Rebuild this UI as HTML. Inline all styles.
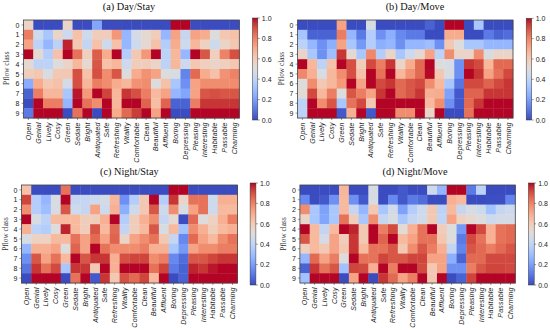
<!DOCTYPE html><html><head><meta charset="utf-8"><style>html,body{margin:0;padding:0;background:#fff;width:550px;height:330px;overflow:hidden}svg{display:block}.t{font-family:"Liberation Serif",serif;fill:#111}.s{font-family:"Liberation Sans",sans-serif;fill:#222}.x{font-family:"Liberation Sans",sans-serif;font-style:italic;fill:#1a1a1a}</style></head><body>
<svg width="550" height="330" viewBox="0 0 550 330">
<defs><linearGradient id="cb" x1="0" y1="1" x2="0" y2="0">
<stop offset="0.00" stop-color="#3b4cc0"/>
<stop offset="0.05" stop-color="#4961d2"/>
<stop offset="0.10" stop-color="#5977e3"/>
<stop offset="0.15" stop-color="#6a8bef"/>
<stop offset="0.20" stop-color="#7b9ff9"/>
<stop offset="0.25" stop-color="#8db0fe"/>
<stop offset="0.30" stop-color="#9ebeff"/>
<stop offset="0.35" stop-color="#afcafc"/>
<stop offset="0.40" stop-color="#c0d4f5"/>
<stop offset="0.45" stop-color="#cfdaea"/>
<stop offset="0.50" stop-color="#dddcdc"/>
<stop offset="0.55" stop-color="#e9d5cb"/>
<stop offset="0.60" stop-color="#f2cbb7"/>
<stop offset="0.65" stop-color="#f6bda2"/>
<stop offset="0.70" stop-color="#f7ac8e"/>
<stop offset="0.75" stop-color="#f4987a"/>
<stop offset="0.80" stop-color="#ee8468"/>
<stop offset="0.85" stop-color="#e36c55"/>
<stop offset="0.90" stop-color="#d65244"/>
<stop offset="0.95" stop-color="#c53334"/>
<stop offset="1.00" stop-color="#b40426"/>
</linearGradient></defs>
<rect x="23.50" y="20.00" width="10.16" height="10.15" fill="#ead4c8"/>
<rect x="33.31" y="20.00" width="10.16" height="10.15" fill="#3b4cc0"/>
<rect x="43.12" y="20.00" width="10.16" height="10.15" fill="#3b4cc0"/>
<rect x="52.93" y="20.00" width="10.16" height="10.15" fill="#3b4cc0"/>
<rect x="62.74" y="20.00" width="10.16" height="10.15" fill="#ead4c8"/>
<rect x="72.55" y="20.00" width="10.16" height="10.15" fill="#3b4cc0"/>
<rect x="82.36" y="20.00" width="10.16" height="10.15" fill="#3b4cc0"/>
<rect x="92.17" y="20.00" width="10.16" height="10.15" fill="#82a6fb"/>
<rect x="101.98" y="20.00" width="10.16" height="10.15" fill="#3b4cc0"/>
<rect x="111.79" y="20.00" width="10.16" height="10.15" fill="#3b4cc0"/>
<rect x="121.60" y="20.00" width="10.16" height="10.15" fill="#3b4cc0"/>
<rect x="131.41" y="20.00" width="10.16" height="10.15" fill="#3b4cc0"/>
<rect x="141.22" y="20.00" width="10.16" height="10.15" fill="#3b4cc0"/>
<rect x="151.03" y="20.00" width="10.16" height="10.15" fill="#3b4cc0"/>
<rect x="160.84" y="20.00" width="10.16" height="10.15" fill="#3b4cc0"/>
<rect x="170.65" y="20.00" width="10.16" height="10.15" fill="#b40426"/>
<rect x="180.46" y="20.00" width="10.16" height="10.15" fill="#b40426"/>
<rect x="190.27" y="20.00" width="10.16" height="10.15" fill="#3b4cc0"/>
<rect x="200.08" y="20.00" width="10.16" height="10.15" fill="#3b4cc0"/>
<rect x="209.89" y="20.00" width="10.16" height="10.15" fill="#3b4cc0"/>
<rect x="219.70" y="20.00" width="10.16" height="10.15" fill="#3b4cc0"/>
<rect x="229.51" y="20.00" width="10.16" height="10.15" fill="#3b4cc0"/>
<rect x="23.50" y="29.80" width="10.16" height="10.15" fill="#eb7d62"/>
<rect x="33.31" y="29.80" width="10.16" height="10.15" fill="#cdd9ec"/>
<rect x="43.12" y="29.80" width="10.16" height="10.15" fill="#a9c6fd"/>
<rect x="52.93" y="29.80" width="10.16" height="10.15" fill="#ead4c8"/>
<rect x="62.74" y="29.80" width="10.16" height="10.15" fill="#cdd9ec"/>
<rect x="72.55" y="29.80" width="10.16" height="10.15" fill="#f5c1a9"/>
<rect x="82.36" y="29.80" width="10.16" height="10.15" fill="#cdd9ec"/>
<rect x="92.17" y="29.80" width="10.16" height="10.15" fill="#f0cdbb"/>
<rect x="101.98" y="29.80" width="10.16" height="10.15" fill="#f0cdbb"/>
<rect x="111.79" y="29.80" width="10.16" height="10.15" fill="#f39778"/>
<rect x="121.60" y="29.80" width="10.16" height="10.15" fill="#96b7ff"/>
<rect x="131.41" y="29.80" width="10.16" height="10.15" fill="#d4dbe6"/>
<rect x="141.22" y="29.80" width="10.16" height="10.15" fill="#e5d8d1"/>
<rect x="151.03" y="29.80" width="10.16" height="10.15" fill="#f0cdbb"/>
<rect x="160.84" y="29.80" width="10.16" height="10.15" fill="#96b7ff"/>
<rect x="170.65" y="29.80" width="10.16" height="10.15" fill="#f6a385"/>
<rect x="180.46" y="29.80" width="10.16" height="10.15" fill="#c6d6f1"/>
<rect x="190.27" y="29.80" width="10.16" height="10.15" fill="#f6a385"/>
<rect x="200.08" y="29.80" width="10.16" height="10.15" fill="#f7ac8e"/>
<rect x="209.89" y="29.80" width="10.16" height="10.15" fill="#dddcdc"/>
<rect x="219.70" y="29.80" width="10.16" height="10.15" fill="#f3c8b2"/>
<rect x="229.51" y="29.80" width="10.16" height="10.15" fill="#f5c1a9"/>
<rect x="23.50" y="39.60" width="10.16" height="10.15" fill="#f6a385"/>
<rect x="33.31" y="39.60" width="10.16" height="10.15" fill="#bcd2f7"/>
<rect x="43.12" y="39.60" width="10.16" height="10.15" fill="#96b7ff"/>
<rect x="52.93" y="39.60" width="10.16" height="10.15" fill="#bcd2f7"/>
<rect x="62.74" y="39.60" width="10.16" height="10.15" fill="#be242e"/>
<rect x="72.55" y="39.60" width="10.16" height="10.15" fill="#f3c8b2"/>
<rect x="82.36" y="39.60" width="10.16" height="10.15" fill="#c4d5f3"/>
<rect x="92.17" y="39.60" width="10.16" height="10.15" fill="#f5c1a9"/>
<rect x="101.98" y="39.60" width="10.16" height="10.15" fill="#cdd9ec"/>
<rect x="111.79" y="39.60" width="10.16" height="10.15" fill="#f5c1a9"/>
<rect x="121.60" y="39.60" width="10.16" height="10.15" fill="#96b7ff"/>
<rect x="131.41" y="39.60" width="10.16" height="10.15" fill="#cdd9ec"/>
<rect x="141.22" y="39.60" width="10.16" height="10.15" fill="#e5d8d1"/>
<rect x="151.03" y="39.60" width="10.16" height="10.15" fill="#f5c1a9"/>
<rect x="160.84" y="39.60" width="10.16" height="10.15" fill="#b5cdfa"/>
<rect x="170.65" y="39.60" width="10.16" height="10.15" fill="#f7ac8e"/>
<rect x="180.46" y="39.60" width="10.16" height="10.15" fill="#cdd9ec"/>
<rect x="190.27" y="39.60" width="10.16" height="10.15" fill="#f7b79b"/>
<rect x="200.08" y="39.60" width="10.16" height="10.15" fill="#edd2c3"/>
<rect x="209.89" y="39.60" width="10.16" height="10.15" fill="#cdd9ec"/>
<rect x="219.70" y="39.60" width="10.16" height="10.15" fill="#ead4c8"/>
<rect x="229.51" y="39.60" width="10.16" height="10.15" fill="#f3c8b2"/>
<rect x="23.50" y="49.40" width="10.16" height="10.15" fill="#b40426"/>
<rect x="33.31" y="49.40" width="10.16" height="10.15" fill="#e5d8d1"/>
<rect x="43.12" y="49.40" width="10.16" height="10.15" fill="#b5cdfa"/>
<rect x="52.93" y="49.40" width="10.16" height="10.15" fill="#f5c1a9"/>
<rect x="62.74" y="49.40" width="10.16" height="10.15" fill="#b40426"/>
<rect x="72.55" y="49.40" width="10.16" height="10.15" fill="#e67259"/>
<rect x="82.36" y="49.40" width="10.16" height="10.15" fill="#efcfbf"/>
<rect x="92.17" y="49.40" width="10.16" height="10.15" fill="#dc5d4a"/>
<rect x="101.98" y="49.40" width="10.16" height="10.15" fill="#f7ac8e"/>
<rect x="111.79" y="49.40" width="10.16" height="10.15" fill="#b40426"/>
<rect x="121.60" y="49.40" width="10.16" height="10.15" fill="#b5cdfa"/>
<rect x="131.41" y="49.40" width="10.16" height="10.15" fill="#f3c8b2"/>
<rect x="141.22" y="49.40" width="10.16" height="10.15" fill="#f39778"/>
<rect x="151.03" y="49.40" width="10.16" height="10.15" fill="#b40426"/>
<rect x="160.84" y="49.40" width="10.16" height="10.15" fill="#bcd2f7"/>
<rect x="170.65" y="49.40" width="10.16" height="10.15" fill="#f7b79b"/>
<rect x="180.46" y="49.40" width="10.16" height="10.15" fill="#96b7ff"/>
<rect x="190.27" y="49.40" width="10.16" height="10.15" fill="#b40426"/>
<rect x="200.08" y="49.40" width="10.16" height="10.15" fill="#d85646"/>
<rect x="209.89" y="49.40" width="10.16" height="10.15" fill="#efcfbf"/>
<rect x="219.70" y="49.40" width="10.16" height="10.15" fill="#ed8366"/>
<rect x="229.51" y="49.40" width="10.16" height="10.15" fill="#d55042"/>
<rect x="23.50" y="59.20" width="10.16" height="10.15" fill="#e5d8d1"/>
<rect x="33.31" y="59.20" width="10.16" height="10.15" fill="#bcd2f7"/>
<rect x="43.12" y="59.20" width="10.16" height="10.15" fill="#bcd2f7"/>
<rect x="52.93" y="59.20" width="10.16" height="10.15" fill="#dddcdc"/>
<rect x="62.74" y="59.20" width="10.16" height="10.15" fill="#ead4c8"/>
<rect x="72.55" y="59.20" width="10.16" height="10.15" fill="#f7b79b"/>
<rect x="82.36" y="59.20" width="10.16" height="10.15" fill="#e5d8d1"/>
<rect x="92.17" y="59.20" width="10.16" height="10.15" fill="#d85646"/>
<rect x="101.98" y="59.20" width="10.16" height="10.15" fill="#f5c1a9"/>
<rect x="111.79" y="59.20" width="10.16" height="10.15" fill="#f7b79b"/>
<rect x="121.60" y="59.20" width="10.16" height="10.15" fill="#cdd9ec"/>
<rect x="131.41" y="59.20" width="10.16" height="10.15" fill="#f0cdbb"/>
<rect x="141.22" y="59.20" width="10.16" height="10.15" fill="#f0cdbb"/>
<rect x="151.03" y="59.20" width="10.16" height="10.15" fill="#ead4c8"/>
<rect x="160.84" y="59.20" width="10.16" height="10.15" fill="#bcd2f7"/>
<rect x="170.65" y="59.20" width="10.16" height="10.15" fill="#f7b79b"/>
<rect x="180.46" y="59.20" width="10.16" height="10.15" fill="#cdd9ec"/>
<rect x="190.27" y="59.20" width="10.16" height="10.15" fill="#f3c8b2"/>
<rect x="200.08" y="59.20" width="10.16" height="10.15" fill="#efcfbf"/>
<rect x="209.89" y="59.20" width="10.16" height="10.15" fill="#ead4c8"/>
<rect x="219.70" y="59.20" width="10.16" height="10.15" fill="#efcfbf"/>
<rect x="229.51" y="59.20" width="10.16" height="10.15" fill="#f3c8b2"/>
<rect x="23.50" y="69.00" width="10.16" height="10.15" fill="#f0cdbb"/>
<rect x="33.31" y="69.00" width="10.16" height="10.15" fill="#f3c8b2"/>
<rect x="43.12" y="69.00" width="10.16" height="10.15" fill="#d7dce3"/>
<rect x="52.93" y="69.00" width="10.16" height="10.15" fill="#f3c8b2"/>
<rect x="62.74" y="69.00" width="10.16" height="10.15" fill="#f3c8b2"/>
<rect x="72.55" y="69.00" width="10.16" height="10.15" fill="#d55042"/>
<rect x="82.36" y="69.00" width="10.16" height="10.15" fill="#f5c1a9"/>
<rect x="92.17" y="69.00" width="10.16" height="10.15" fill="#d55042"/>
<rect x="101.98" y="69.00" width="10.16" height="10.15" fill="#f18d6f"/>
<rect x="111.79" y="69.00" width="10.16" height="10.15" fill="#d85646"/>
<rect x="121.60" y="69.00" width="10.16" height="10.15" fill="#dddcdc"/>
<rect x="131.41" y="69.00" width="10.16" height="10.15" fill="#f7ac8e"/>
<rect x="141.22" y="69.00" width="10.16" height="10.15" fill="#f29274"/>
<rect x="151.03" y="69.00" width="10.16" height="10.15" fill="#f6a385"/>
<rect x="160.84" y="69.00" width="10.16" height="10.15" fill="#dddcdc"/>
<rect x="170.65" y="69.00" width="10.16" height="10.15" fill="#d7dce3"/>
<rect x="180.46" y="69.00" width="10.16" height="10.15" fill="#6384eb"/>
<rect x="190.27" y="69.00" width="10.16" height="10.15" fill="#e26952"/>
<rect x="200.08" y="69.00" width="10.16" height="10.15" fill="#f7ac8e"/>
<rect x="209.89" y="69.00" width="10.16" height="10.15" fill="#f5c1a9"/>
<rect x="219.70" y="69.00" width="10.16" height="10.15" fill="#f29274"/>
<rect x="229.51" y="69.00" width="10.16" height="10.15" fill="#ed8366"/>
<rect x="23.50" y="78.80" width="10.16" height="10.15" fill="#8badfd"/>
<rect x="33.31" y="78.80" width="10.16" height="10.15" fill="#f7ac8e"/>
<rect x="43.12" y="78.80" width="10.16" height="10.15" fill="#f3c8b2"/>
<rect x="52.93" y="78.80" width="10.16" height="10.15" fill="#f5c1a9"/>
<rect x="62.74" y="78.80" width="10.16" height="10.15" fill="#d4dbe6"/>
<rect x="72.55" y="78.80" width="10.16" height="10.15" fill="#d55042"/>
<rect x="82.36" y="78.80" width="10.16" height="10.15" fill="#f7b79b"/>
<rect x="92.17" y="78.80" width="10.16" height="10.15" fill="#eb7d62"/>
<rect x="101.98" y="78.80" width="10.16" height="10.15" fill="#f18d6f"/>
<rect x="111.79" y="78.80" width="10.16" height="10.15" fill="#f7ac8e"/>
<rect x="121.60" y="78.80" width="10.16" height="10.15" fill="#f7b79b"/>
<rect x="131.41" y="78.80" width="10.16" height="10.15" fill="#f29274"/>
<rect x="141.22" y="78.80" width="10.16" height="10.15" fill="#f18d6f"/>
<rect x="151.03" y="78.80" width="10.16" height="10.15" fill="#dddcdc"/>
<rect x="160.84" y="78.80" width="10.16" height="10.15" fill="#f5c1a9"/>
<rect x="170.65" y="78.80" width="10.16" height="10.15" fill="#a9c6fd"/>
<rect x="180.46" y="78.80" width="10.16" height="10.15" fill="#6e90f2"/>
<rect x="190.27" y="78.80" width="10.16" height="10.15" fill="#f6a385"/>
<rect x="200.08" y="78.80" width="10.16" height="10.15" fill="#f18d6f"/>
<rect x="209.89" y="78.80" width="10.16" height="10.15" fill="#f18d6f"/>
<rect x="219.70" y="78.80" width="10.16" height="10.15" fill="#f18d6f"/>
<rect x="229.51" y="78.80" width="10.16" height="10.15" fill="#f18d6f"/>
<rect x="23.50" y="88.60" width="10.16" height="10.15" fill="#4a63d3"/>
<rect x="33.31" y="88.60" width="10.16" height="10.15" fill="#eb7d62"/>
<rect x="43.12" y="88.60" width="10.16" height="10.15" fill="#f7b79b"/>
<rect x="52.93" y="88.60" width="10.16" height="10.15" fill="#f7b79b"/>
<rect x="62.74" y="88.60" width="10.16" height="10.15" fill="#a9c6fd"/>
<rect x="72.55" y="88.60" width="10.16" height="10.15" fill="#ba162b"/>
<rect x="82.36" y="88.60" width="10.16" height="10.15" fill="#f49a7b"/>
<rect x="92.17" y="88.60" width="10.16" height="10.15" fill="#b40426"/>
<rect x="101.98" y="88.60" width="10.16" height="10.15" fill="#cf453c"/>
<rect x="111.79" y="88.60" width="10.16" height="10.15" fill="#f7b79b"/>
<rect x="121.60" y="88.60" width="10.16" height="10.15" fill="#c73635"/>
<rect x="131.41" y="88.60" width="10.16" height="10.15" fill="#d55042"/>
<rect x="141.22" y="88.60" width="10.16" height="10.15" fill="#eb7d62"/>
<rect x="151.03" y="88.60" width="10.16" height="10.15" fill="#f7ba9f"/>
<rect x="160.84" y="88.60" width="10.16" height="10.15" fill="#f6a385"/>
<rect x="170.65" y="88.60" width="10.16" height="10.15" fill="#96b7ff"/>
<rect x="180.46" y="88.60" width="10.16" height="10.15" fill="#82a6fb"/>
<rect x="190.27" y="88.60" width="10.16" height="10.15" fill="#f6a385"/>
<rect x="200.08" y="88.60" width="10.16" height="10.15" fill="#d85646"/>
<rect x="209.89" y="88.60" width="10.16" height="10.15" fill="#d55042"/>
<rect x="219.70" y="88.60" width="10.16" height="10.15" fill="#d85646"/>
<rect x="229.51" y="88.60" width="10.16" height="10.15" fill="#d85646"/>
<rect x="23.50" y="98.40" width="10.16" height="10.15" fill="#3b4cc0"/>
<rect x="33.31" y="98.40" width="10.16" height="10.15" fill="#b40426"/>
<rect x="43.12" y="98.40" width="10.16" height="10.15" fill="#eb7d62"/>
<rect x="52.93" y="98.40" width="10.16" height="10.15" fill="#eb7d62"/>
<rect x="62.74" y="98.40" width="10.16" height="10.15" fill="#96b7ff"/>
<rect x="72.55" y="98.40" width="10.16" height="10.15" fill="#b40426"/>
<rect x="82.36" y="98.40" width="10.16" height="10.15" fill="#e67259"/>
<rect x="92.17" y="98.40" width="10.16" height="10.15" fill="#f18d6f"/>
<rect x="101.98" y="98.40" width="10.16" height="10.15" fill="#b40426"/>
<rect x="111.79" y="98.40" width="10.16" height="10.15" fill="#f7b79b"/>
<rect x="121.60" y="98.40" width="10.16" height="10.15" fill="#b40426"/>
<rect x="131.41" y="98.40" width="10.16" height="10.15" fill="#b40426"/>
<rect x="141.22" y="98.40" width="10.16" height="10.15" fill="#df634e"/>
<rect x="151.03" y="98.40" width="10.16" height="10.15" fill="#f6bea4"/>
<rect x="160.84" y="98.40" width="10.16" height="10.15" fill="#df634e"/>
<rect x="170.65" y="98.40" width="10.16" height="10.15" fill="#4a63d3"/>
<rect x="180.46" y="98.40" width="10.16" height="10.15" fill="#4a63d3"/>
<rect x="190.27" y="98.40" width="10.16" height="10.15" fill="#eb7d62"/>
<rect x="200.08" y="98.40" width="10.16" height="10.15" fill="#c73635"/>
<rect x="209.89" y="98.40" width="10.16" height="10.15" fill="#c73635"/>
<rect x="219.70" y="98.40" width="10.16" height="10.15" fill="#c73635"/>
<rect x="229.51" y="98.40" width="10.16" height="10.15" fill="#c73635"/>
<rect x="23.50" y="108.20" width="10.16" height="10.15" fill="#5b7ae5"/>
<rect x="33.31" y="108.20" width="10.16" height="10.15" fill="#b40426"/>
<rect x="43.12" y="108.20" width="10.16" height="10.15" fill="#b40426"/>
<rect x="52.93" y="108.20" width="10.16" height="10.15" fill="#b40426"/>
<rect x="62.74" y="108.20" width="10.16" height="10.15" fill="#3b4cc0"/>
<rect x="72.55" y="108.20" width="10.16" height="10.15" fill="#e67259"/>
<rect x="82.36" y="108.20" width="10.16" height="10.15" fill="#b40426"/>
<rect x="92.17" y="108.20" width="10.16" height="10.15" fill="#3b4cc0"/>
<rect x="101.98" y="108.20" width="10.16" height="10.15" fill="#b40426"/>
<rect x="111.79" y="108.20" width="10.16" height="10.15" fill="#f7ac8e"/>
<rect x="121.60" y="108.20" width="10.16" height="10.15" fill="#e26952"/>
<rect x="131.41" y="108.20" width="10.16" height="10.15" fill="#cb3e38"/>
<rect x="141.22" y="108.20" width="10.16" height="10.15" fill="#b40426"/>
<rect x="151.03" y="108.20" width="10.16" height="10.15" fill="#f6a385"/>
<rect x="160.84" y="108.20" width="10.16" height="10.15" fill="#b40426"/>
<rect x="170.65" y="108.20" width="10.16" height="10.15" fill="#3b4cc0"/>
<rect x="180.46" y="108.20" width="10.16" height="10.15" fill="#3b4cc0"/>
<rect x="190.27" y="108.20" width="10.16" height="10.15" fill="#b40426"/>
<rect x="200.08" y="108.20" width="10.16" height="10.15" fill="#b40426"/>
<rect x="209.89" y="108.20" width="10.16" height="10.15" fill="#b40426"/>
<rect x="219.70" y="108.20" width="10.16" height="10.15" fill="#b40426"/>
<rect x="229.51" y="108.20" width="10.16" height="10.15" fill="#b40426"/>
<rect x="23.50" y="20.00" width="215.82" height="98.00" fill="none" stroke="#444" stroke-width="0.8"/>
<line x1="21.50" y1="24.90" x2="23.50" y2="24.90" stroke="#333" stroke-width="0.5"/>
<text class="s" x="19.40" y="25.10" font-size="7" text-anchor="end" dominant-baseline="central">0</text>
<line x1="21.50" y1="34.70" x2="23.50" y2="34.70" stroke="#333" stroke-width="0.5"/>
<text class="s" x="19.40" y="34.90" font-size="7" text-anchor="end" dominant-baseline="central">1</text>
<line x1="21.50" y1="44.50" x2="23.50" y2="44.50" stroke="#333" stroke-width="0.5"/>
<text class="s" x="19.40" y="44.70" font-size="7" text-anchor="end" dominant-baseline="central">2</text>
<line x1="21.50" y1="54.30" x2="23.50" y2="54.30" stroke="#333" stroke-width="0.5"/>
<text class="s" x="19.40" y="54.50" font-size="7" text-anchor="end" dominant-baseline="central">3</text>
<line x1="21.50" y1="64.10" x2="23.50" y2="64.10" stroke="#333" stroke-width="0.5"/>
<text class="s" x="19.40" y="64.30" font-size="7" text-anchor="end" dominant-baseline="central">4</text>
<line x1="21.50" y1="73.90" x2="23.50" y2="73.90" stroke="#333" stroke-width="0.5"/>
<text class="s" x="19.40" y="74.10" font-size="7" text-anchor="end" dominant-baseline="central">5</text>
<line x1="21.50" y1="83.70" x2="23.50" y2="83.70" stroke="#333" stroke-width="0.5"/>
<text class="s" x="19.40" y="83.90" font-size="7" text-anchor="end" dominant-baseline="central">6</text>
<line x1="21.50" y1="93.50" x2="23.50" y2="93.50" stroke="#333" stroke-width="0.5"/>
<text class="s" x="19.40" y="93.70" font-size="7" text-anchor="end" dominant-baseline="central">7</text>
<line x1="21.50" y1="103.30" x2="23.50" y2="103.30" stroke="#333" stroke-width="0.5"/>
<text class="s" x="19.40" y="103.50" font-size="7" text-anchor="end" dominant-baseline="central">8</text>
<line x1="21.50" y1="113.10" x2="23.50" y2="113.10" stroke="#333" stroke-width="0.5"/>
<text class="s" x="19.40" y="113.30" font-size="7" text-anchor="end" dominant-baseline="central">9</text>
<line x1="28.41" y1="118.00" x2="28.41" y2="120.00" stroke="#333" stroke-width="0.5"/>
<text class="x" transform="translate(28.41,122.30) rotate(-90)" font-size="7" letter-spacing="0.2" text-anchor="end" dominant-baseline="central">Open</text>
<line x1="38.22" y1="118.00" x2="38.22" y2="120.00" stroke="#333" stroke-width="0.5"/>
<text class="x" transform="translate(38.22,122.30) rotate(-90)" font-size="7" letter-spacing="0.2" text-anchor="end" dominant-baseline="central">Genial</text>
<line x1="48.03" y1="118.00" x2="48.03" y2="120.00" stroke="#333" stroke-width="0.5"/>
<text class="x" transform="translate(48.03,122.30) rotate(-90)" font-size="7" letter-spacing="0.2" text-anchor="end" dominant-baseline="central">Lively</text>
<line x1="57.84" y1="118.00" x2="57.84" y2="120.00" stroke="#333" stroke-width="0.5"/>
<text class="x" transform="translate(57.84,122.30) rotate(-90)" font-size="7" letter-spacing="0.2" text-anchor="end" dominant-baseline="central">Cosy</text>
<line x1="67.65" y1="118.00" x2="67.65" y2="120.00" stroke="#333" stroke-width="0.5"/>
<text class="x" transform="translate(67.65,122.30) rotate(-90)" font-size="7" letter-spacing="0.2" text-anchor="end" dominant-baseline="central">Green</text>
<line x1="77.46" y1="118.00" x2="77.46" y2="120.00" stroke="#333" stroke-width="0.5"/>
<text class="x" transform="translate(77.46,122.30) rotate(-90)" font-size="7" letter-spacing="0.2" text-anchor="end" dominant-baseline="central">Sedate</text>
<line x1="87.27" y1="118.00" x2="87.27" y2="120.00" stroke="#333" stroke-width="0.5"/>
<text class="x" transform="translate(87.27,122.30) rotate(-90)" font-size="7" letter-spacing="0.2" text-anchor="end" dominant-baseline="central">Bright</text>
<line x1="97.08" y1="118.00" x2="97.08" y2="120.00" stroke="#333" stroke-width="0.5"/>
<text class="x" transform="translate(97.08,122.30) rotate(-90)" font-size="7" letter-spacing="0.2" text-anchor="end" dominant-baseline="central">Antiquated</text>
<line x1="106.89" y1="118.00" x2="106.89" y2="120.00" stroke="#333" stroke-width="0.5"/>
<text class="x" transform="translate(106.89,122.30) rotate(-90)" font-size="7" letter-spacing="0.2" text-anchor="end" dominant-baseline="central">Safe</text>
<line x1="116.70" y1="118.00" x2="116.70" y2="120.00" stroke="#333" stroke-width="0.5"/>
<text class="x" transform="translate(116.70,122.30) rotate(-90)" font-size="7" letter-spacing="0.2" text-anchor="end" dominant-baseline="central">Refreshing</text>
<line x1="126.51" y1="118.00" x2="126.51" y2="120.00" stroke="#333" stroke-width="0.5"/>
<text class="x" transform="translate(126.51,122.30) rotate(-90)" font-size="7" letter-spacing="0.2" text-anchor="end" dominant-baseline="central">Vitality</text>
<line x1="136.31" y1="118.00" x2="136.31" y2="120.00" stroke="#333" stroke-width="0.5"/>
<text class="x" transform="translate(136.31,122.30) rotate(-90)" font-size="7" letter-spacing="0.2" text-anchor="end" dominant-baseline="central">Comfortable</text>
<line x1="146.12" y1="118.00" x2="146.12" y2="120.00" stroke="#333" stroke-width="0.5"/>
<text class="x" transform="translate(146.12,122.30) rotate(-90)" font-size="7" letter-spacing="0.2" text-anchor="end" dominant-baseline="central">Clean</text>
<line x1="155.94" y1="118.00" x2="155.94" y2="120.00" stroke="#333" stroke-width="0.5"/>
<text class="x" transform="translate(155.94,122.30) rotate(-90)" font-size="7" letter-spacing="0.2" text-anchor="end" dominant-baseline="central">Beautiful</text>
<line x1="165.75" y1="118.00" x2="165.75" y2="120.00" stroke="#333" stroke-width="0.5"/>
<text class="x" transform="translate(165.75,122.30) rotate(-90)" font-size="7" letter-spacing="0.2" text-anchor="end" dominant-baseline="central">Affluent</text>
<line x1="175.56" y1="118.00" x2="175.56" y2="120.00" stroke="#333" stroke-width="0.5"/>
<text class="x" transform="translate(175.56,122.30) rotate(-90)" font-size="7" letter-spacing="0.2" text-anchor="end" dominant-baseline="central">Boring</text>
<line x1="185.37" y1="118.00" x2="185.37" y2="120.00" stroke="#333" stroke-width="0.5"/>
<text class="x" transform="translate(185.37,122.30) rotate(-90)" font-size="7" letter-spacing="0.2" text-anchor="end" dominant-baseline="central">Depressing</text>
<line x1="195.18" y1="118.00" x2="195.18" y2="120.00" stroke="#333" stroke-width="0.5"/>
<text class="x" transform="translate(195.18,122.30) rotate(-90)" font-size="7" letter-spacing="0.2" text-anchor="end" dominant-baseline="central">Pleasing</text>
<line x1="204.99" y1="118.00" x2="204.99" y2="120.00" stroke="#333" stroke-width="0.5"/>
<text class="x" transform="translate(204.99,122.30) rotate(-90)" font-size="7" letter-spacing="0.2" text-anchor="end" dominant-baseline="central">Interesting</text>
<line x1="214.80" y1="118.00" x2="214.80" y2="120.00" stroke="#333" stroke-width="0.5"/>
<text class="x" transform="translate(214.80,122.30) rotate(-90)" font-size="7" letter-spacing="0.2" text-anchor="end" dominant-baseline="central">Habitable</text>
<line x1="224.61" y1="118.00" x2="224.61" y2="120.00" stroke="#333" stroke-width="0.5"/>
<text class="x" transform="translate(224.61,122.30) rotate(-90)" font-size="7" letter-spacing="0.2" text-anchor="end" dominant-baseline="central">Passable</text>
<line x1="234.42" y1="118.00" x2="234.42" y2="120.00" stroke="#333" stroke-width="0.5"/>
<text class="x" transform="translate(234.42,122.30) rotate(-90)" font-size="7" letter-spacing="0.2" text-anchor="end" dominant-baseline="central">Charming</text>
<text class="t" x="129.00" y="10.00" font-size="10.3" text-anchor="middle">(a) Day/Stay</text>
<text class="t" transform="translate(6.60,68.20) rotate(-90)" font-size="7.3" text-anchor="middle" dominant-baseline="central" style="fill:#333">Pflow class</text>
<rect x="252.40" y="18.00" width="5.40" height="102.00" fill="url(#cb)" stroke="#333" stroke-width="0.5"/>
<line x1="257.80" y1="120.00" x2="259.80" y2="120.00" stroke="#333" stroke-width="0.5"/>
<text class="s" x="261.80" y="120.20" font-size="7" dominant-baseline="central">0.0</text>
<line x1="257.80" y1="99.60" x2="259.80" y2="99.60" stroke="#333" stroke-width="0.5"/>
<text class="s" x="261.80" y="99.80" font-size="7" dominant-baseline="central">0.2</text>
<line x1="257.80" y1="79.20" x2="259.80" y2="79.20" stroke="#333" stroke-width="0.5"/>
<text class="s" x="261.80" y="79.40" font-size="7" dominant-baseline="central">0.4</text>
<line x1="257.80" y1="58.80" x2="259.80" y2="58.80" stroke="#333" stroke-width="0.5"/>
<text class="s" x="261.80" y="59.00" font-size="7" dominant-baseline="central">0.6</text>
<line x1="257.80" y1="38.40" x2="259.80" y2="38.40" stroke="#333" stroke-width="0.5"/>
<text class="s" x="261.80" y="38.60" font-size="7" dominant-baseline="central">0.8</text>
<line x1="257.80" y1="18.00" x2="259.80" y2="18.00" stroke="#333" stroke-width="0.5"/>
<text class="s" x="261.80" y="18.20" font-size="7" dominant-baseline="central">1.0</text>
<rect x="297.50" y="20.00" width="10.14" height="10.15" fill="#3b4cc0"/>
<rect x="307.30" y="20.00" width="10.14" height="10.15" fill="#3b4cc0"/>
<rect x="317.09" y="20.00" width="10.14" height="10.15" fill="#3b4cc0"/>
<rect x="326.88" y="20.00" width="10.14" height="10.15" fill="#3b4cc0"/>
<rect x="336.68" y="20.00" width="10.14" height="10.15" fill="#f6a385"/>
<rect x="346.48" y="20.00" width="10.14" height="10.15" fill="#3b4cc0"/>
<rect x="356.27" y="20.00" width="10.14" height="10.15" fill="#3b4cc0"/>
<rect x="366.06" y="20.00" width="10.14" height="10.15" fill="#d7dce3"/>
<rect x="375.86" y="20.00" width="10.14" height="10.15" fill="#3b4cc0"/>
<rect x="385.65" y="20.00" width="10.14" height="10.15" fill="#3b4cc0"/>
<rect x="395.45" y="20.00" width="10.14" height="10.15" fill="#3b4cc0"/>
<rect x="405.25" y="20.00" width="10.14" height="10.15" fill="#3b4cc0"/>
<rect x="415.04" y="20.00" width="10.14" height="10.15" fill="#3b4cc0"/>
<rect x="424.83" y="20.00" width="10.14" height="10.15" fill="#4a63d3"/>
<rect x="434.63" y="20.00" width="10.14" height="10.15" fill="#3b4cc0"/>
<rect x="444.43" y="20.00" width="10.14" height="10.15" fill="#b40426"/>
<rect x="454.22" y="20.00" width="10.14" height="10.15" fill="#b40426"/>
<rect x="464.01" y="20.00" width="10.14" height="10.15" fill="#3b4cc0"/>
<rect x="473.81" y="20.00" width="10.14" height="10.15" fill="#a9c6fd"/>
<rect x="483.61" y="20.00" width="10.14" height="10.15" fill="#3b4cc0"/>
<rect x="493.40" y="20.00" width="10.14" height="10.15" fill="#3b4cc0"/>
<rect x="503.19" y="20.00" width="10.14" height="10.15" fill="#3b4cc0"/>
<rect x="297.50" y="29.80" width="10.14" height="10.15" fill="#a6c4fe"/>
<rect x="307.30" y="29.80" width="10.14" height="10.15" fill="#4a63d3"/>
<rect x="317.09" y="29.80" width="10.14" height="10.15" fill="#4a63d3"/>
<rect x="326.88" y="29.80" width="10.14" height="10.15" fill="#4a63d3"/>
<rect x="336.68" y="29.80" width="10.14" height="10.15" fill="#eb7d62"/>
<rect x="346.48" y="29.80" width="10.14" height="10.15" fill="#96b7ff"/>
<rect x="356.27" y="29.80" width="10.14" height="10.15" fill="#5b7ae5"/>
<rect x="366.06" y="29.80" width="10.14" height="10.15" fill="#b5cdfa"/>
<rect x="375.86" y="29.80" width="10.14" height="10.15" fill="#6e90f2"/>
<rect x="385.65" y="29.80" width="10.14" height="10.15" fill="#8db0fe"/>
<rect x="395.45" y="29.80" width="10.14" height="10.15" fill="#6788ee"/>
<rect x="405.25" y="29.80" width="10.14" height="10.15" fill="#5b7ae5"/>
<rect x="415.04" y="29.80" width="10.14" height="10.15" fill="#5b7ae5"/>
<rect x="424.83" y="29.80" width="10.14" height="10.15" fill="#3b4cc0"/>
<rect x="434.63" y="29.80" width="10.14" height="10.15" fill="#3b4cc0"/>
<rect x="444.43" y="29.80" width="10.14" height="10.15" fill="#f7ac8e"/>
<rect x="454.22" y="29.80" width="10.14" height="10.15" fill="#f7ac8e"/>
<rect x="464.01" y="29.80" width="10.14" height="10.15" fill="#3b4cc0"/>
<rect x="473.81" y="29.80" width="10.14" height="10.15" fill="#3b4cc0"/>
<rect x="483.61" y="29.80" width="10.14" height="10.15" fill="#5b7ae5"/>
<rect x="493.40" y="29.80" width="10.14" height="10.15" fill="#4a63d3"/>
<rect x="503.19" y="29.80" width="10.14" height="10.15" fill="#516ddb"/>
<rect x="297.50" y="39.60" width="10.14" height="10.15" fill="#bcd2f7"/>
<rect x="307.30" y="39.60" width="10.14" height="10.15" fill="#96b7ff"/>
<rect x="317.09" y="39.60" width="10.14" height="10.15" fill="#6e90f2"/>
<rect x="326.88" y="39.60" width="10.14" height="10.15" fill="#8db0fe"/>
<rect x="336.68" y="39.60" width="10.14" height="10.15" fill="#f6a385"/>
<rect x="346.48" y="39.60" width="10.14" height="10.15" fill="#a9c6fd"/>
<rect x="356.27" y="39.60" width="10.14" height="10.15" fill="#7699f6"/>
<rect x="366.06" y="39.60" width="10.14" height="10.15" fill="#b5cdfa"/>
<rect x="375.86" y="39.60" width="10.14" height="10.15" fill="#8db0fe"/>
<rect x="385.65" y="39.60" width="10.14" height="10.15" fill="#96b7ff"/>
<rect x="395.45" y="39.60" width="10.14" height="10.15" fill="#6e90f2"/>
<rect x="405.25" y="39.60" width="10.14" height="10.15" fill="#96b7ff"/>
<rect x="415.04" y="39.60" width="10.14" height="10.15" fill="#96b7ff"/>
<rect x="424.83" y="39.60" width="10.14" height="10.15" fill="#9ebeff"/>
<rect x="434.63" y="39.60" width="10.14" height="10.15" fill="#6e90f2"/>
<rect x="444.43" y="39.60" width="10.14" height="10.15" fill="#f3c8b2"/>
<rect x="454.22" y="39.60" width="10.14" height="10.15" fill="#dddcdc"/>
<rect x="464.01" y="39.60" width="10.14" height="10.15" fill="#a9c6fd"/>
<rect x="473.81" y="39.60" width="10.14" height="10.15" fill="#a9c6fd"/>
<rect x="483.61" y="39.60" width="10.14" height="10.15" fill="#96b7ff"/>
<rect x="493.40" y="39.60" width="10.14" height="10.15" fill="#96b7ff"/>
<rect x="503.19" y="39.60" width="10.14" height="10.15" fill="#96b7ff"/>
<rect x="297.50" y="49.40" width="10.14" height="10.15" fill="#ead4c8"/>
<rect x="307.30" y="49.40" width="10.14" height="10.15" fill="#a9c6fd"/>
<rect x="317.09" y="49.40" width="10.14" height="10.15" fill="#6e90f2"/>
<rect x="326.88" y="49.40" width="10.14" height="10.15" fill="#9ebeff"/>
<rect x="336.68" y="49.40" width="10.14" height="10.15" fill="#c73635"/>
<rect x="346.48" y="49.40" width="10.14" height="10.15" fill="#e5d8d1"/>
<rect x="356.27" y="49.40" width="10.14" height="10.15" fill="#a9c6fd"/>
<rect x="366.06" y="49.40" width="10.14" height="10.15" fill="#ef886b"/>
<rect x="375.86" y="49.40" width="10.14" height="10.15" fill="#b5cdfa"/>
<rect x="385.65" y="49.40" width="10.14" height="10.15" fill="#ead4c8"/>
<rect x="395.45" y="49.40" width="10.14" height="10.15" fill="#a9c6fd"/>
<rect x="405.25" y="49.40" width="10.14" height="10.15" fill="#cdd9ec"/>
<rect x="415.04" y="49.40" width="10.14" height="10.15" fill="#e5d8d1"/>
<rect x="424.83" y="49.40" width="10.14" height="10.15" fill="#f6a385"/>
<rect x="434.63" y="49.40" width="10.14" height="10.15" fill="#bcd2f7"/>
<rect x="444.43" y="49.40" width="10.14" height="10.15" fill="#f18d6f"/>
<rect x="454.22" y="49.40" width="10.14" height="10.15" fill="#ead4c8"/>
<rect x="464.01" y="49.40" width="10.14" height="10.15" fill="#ead4c8"/>
<rect x="473.81" y="49.40" width="10.14" height="10.15" fill="#f18d6f"/>
<rect x="483.61" y="49.40" width="10.14" height="10.15" fill="#d7dce3"/>
<rect x="493.40" y="49.40" width="10.14" height="10.15" fill="#ead4c8"/>
<rect x="503.19" y="49.40" width="10.14" height="10.15" fill="#ead4c8"/>
<rect x="297.50" y="59.20" width="10.14" height="10.15" fill="#b40426"/>
<rect x="307.30" y="59.20" width="10.14" height="10.15" fill="#f7b79b"/>
<rect x="317.09" y="59.20" width="10.14" height="10.15" fill="#bcd2f7"/>
<rect x="326.88" y="59.20" width="10.14" height="10.15" fill="#f5c1a9"/>
<rect x="336.68" y="59.20" width="10.14" height="10.15" fill="#b40426"/>
<rect x="346.48" y="59.20" width="10.14" height="10.15" fill="#d55042"/>
<rect x="356.27" y="59.20" width="10.14" height="10.15" fill="#f0cdbb"/>
<rect x="366.06" y="59.20" width="10.14" height="10.15" fill="#d1493f"/>
<rect x="375.86" y="59.20" width="10.14" height="10.15" fill="#eb7d62"/>
<rect x="385.65" y="59.20" width="10.14" height="10.15" fill="#c73635"/>
<rect x="395.45" y="59.20" width="10.14" height="10.15" fill="#ead4c8"/>
<rect x="405.25" y="59.20" width="10.14" height="10.15" fill="#f7ac8e"/>
<rect x="415.04" y="59.20" width="10.14" height="10.15" fill="#e26952"/>
<rect x="424.83" y="59.20" width="10.14" height="10.15" fill="#b40426"/>
<rect x="434.63" y="59.20" width="10.14" height="10.15" fill="#dddcdc"/>
<rect x="444.43" y="59.20" width="10.14" height="10.15" fill="#d7dce3"/>
<rect x="454.22" y="59.20" width="10.14" height="10.15" fill="#6e90f2"/>
<rect x="464.01" y="59.20" width="10.14" height="10.15" fill="#c73635"/>
<rect x="473.81" y="59.20" width="10.14" height="10.15" fill="#d1493f"/>
<rect x="483.61" y="59.20" width="10.14" height="10.15" fill="#f7b79b"/>
<rect x="493.40" y="59.20" width="10.14" height="10.15" fill="#e26952"/>
<rect x="503.19" y="59.20" width="10.14" height="10.15" fill="#e26952"/>
<rect x="297.50" y="69.00" width="10.14" height="10.15" fill="#ef886b"/>
<rect x="307.30" y="69.00" width="10.14" height="10.15" fill="#f7b093"/>
<rect x="317.09" y="69.00" width="10.14" height="10.15" fill="#d7dce3"/>
<rect x="326.88" y="69.00" width="10.14" height="10.15" fill="#f7b79b"/>
<rect x="336.68" y="69.00" width="10.14" height="10.15" fill="#f18d6f"/>
<rect x="346.48" y="69.00" width="10.14" height="10.15" fill="#d55042"/>
<rect x="356.27" y="69.00" width="10.14" height="10.15" fill="#f5c1a9"/>
<rect x="366.06" y="69.00" width="10.14" height="10.15" fill="#b40426"/>
<rect x="375.86" y="69.00" width="10.14" height="10.15" fill="#e67259"/>
<rect x="385.65" y="69.00" width="10.14" height="10.15" fill="#b40426"/>
<rect x="395.45" y="69.00" width="10.14" height="10.15" fill="#f7b79b"/>
<rect x="405.25" y="69.00" width="10.14" height="10.15" fill="#f29274"/>
<rect x="415.04" y="69.00" width="10.14" height="10.15" fill="#e26952"/>
<rect x="424.83" y="69.00" width="10.14" height="10.15" fill="#b50927"/>
<rect x="434.63" y="69.00" width="10.14" height="10.15" fill="#f3c8b2"/>
<rect x="444.43" y="69.00" width="10.14" height="10.15" fill="#d7dce3"/>
<rect x="454.22" y="69.00" width="10.14" height="10.15" fill="#6e90f2"/>
<rect x="464.01" y="69.00" width="10.14" height="10.15" fill="#b40426"/>
<rect x="473.81" y="69.00" width="10.14" height="10.15" fill="#c73635"/>
<rect x="483.61" y="69.00" width="10.14" height="10.15" fill="#f6a385"/>
<rect x="493.40" y="69.00" width="10.14" height="10.15" fill="#e67259"/>
<rect x="503.19" y="69.00" width="10.14" height="10.15" fill="#d1493f"/>
<rect x="297.50" y="78.80" width="10.14" height="10.15" fill="#dddcdc"/>
<rect x="307.30" y="78.80" width="10.14" height="10.15" fill="#f18d6f"/>
<rect x="317.09" y="78.80" width="10.14" height="10.15" fill="#f3c8b2"/>
<rect x="326.88" y="78.80" width="10.14" height="10.15" fill="#f7b79b"/>
<rect x="336.68" y="78.80" width="10.14" height="10.15" fill="#f49a7b"/>
<rect x="346.48" y="78.80" width="10.14" height="10.15" fill="#b40426"/>
<rect x="356.27" y="78.80" width="10.14" height="10.15" fill="#f6a385"/>
<rect x="366.06" y="78.80" width="10.14" height="10.15" fill="#b40426"/>
<rect x="375.86" y="78.80" width="10.14" height="10.15" fill="#d1493f"/>
<rect x="385.65" y="78.80" width="10.14" height="10.15" fill="#c73635"/>
<rect x="395.45" y="78.80" width="10.14" height="10.15" fill="#e26952"/>
<rect x="405.25" y="78.80" width="10.14" height="10.15" fill="#d85646"/>
<rect x="415.04" y="78.80" width="10.14" height="10.15" fill="#d1493f"/>
<rect x="424.83" y="78.80" width="10.14" height="10.15" fill="#f18d6f"/>
<rect x="434.63" y="78.80" width="10.14" height="10.15" fill="#f7ba9f"/>
<rect x="444.43" y="78.80" width="10.14" height="10.15" fill="#a9c6fd"/>
<rect x="454.22" y="78.80" width="10.14" height="10.15" fill="#5875e1"/>
<rect x="464.01" y="78.80" width="10.14" height="10.15" fill="#d1493f"/>
<rect x="473.81" y="78.80" width="10.14" height="10.15" fill="#d1493f"/>
<rect x="483.61" y="78.80" width="10.14" height="10.15" fill="#df634e"/>
<rect x="493.40" y="78.80" width="10.14" height="10.15" fill="#d1493f"/>
<rect x="503.19" y="78.80" width="10.14" height="10.15" fill="#c73635"/>
<rect x="297.50" y="88.60" width="10.14" height="10.15" fill="#e2dad5"/>
<rect x="307.30" y="88.60" width="10.14" height="10.15" fill="#d1493f"/>
<rect x="317.09" y="88.60" width="10.14" height="10.15" fill="#f7b79b"/>
<rect x="326.88" y="88.60" width="10.14" height="10.15" fill="#eb7d62"/>
<rect x="336.68" y="88.60" width="10.14" height="10.15" fill="#dddcdc"/>
<rect x="346.48" y="88.60" width="10.14" height="10.15" fill="#d85646"/>
<rect x="356.27" y="88.60" width="10.14" height="10.15" fill="#eb7d62"/>
<rect x="366.06" y="88.60" width="10.14" height="10.15" fill="#f6a385"/>
<rect x="375.86" y="88.60" width="10.14" height="10.15" fill="#c73635"/>
<rect x="385.65" y="88.60" width="10.14" height="10.15" fill="#b40426"/>
<rect x="395.45" y="88.60" width="10.14" height="10.15" fill="#e26952"/>
<rect x="405.25" y="88.60" width="10.14" height="10.15" fill="#d85646"/>
<rect x="415.04" y="88.60" width="10.14" height="10.15" fill="#c73635"/>
<rect x="424.83" y="88.60" width="10.14" height="10.15" fill="#f7b093"/>
<rect x="434.63" y="88.60" width="10.14" height="10.15" fill="#f7ac8e"/>
<rect x="444.43" y="88.60" width="10.14" height="10.15" fill="#7ea1fa"/>
<rect x="454.22" y="88.60" width="10.14" height="10.15" fill="#4358cb"/>
<rect x="464.01" y="88.60" width="10.14" height="10.15" fill="#df634e"/>
<rect x="473.81" y="88.60" width="10.14" height="10.15" fill="#df634e"/>
<rect x="483.61" y="88.60" width="10.14" height="10.15" fill="#c73635"/>
<rect x="493.40" y="88.60" width="10.14" height="10.15" fill="#c73635"/>
<rect x="503.19" y="88.60" width="10.14" height="10.15" fill="#c73635"/>
<rect x="297.50" y="98.40" width="10.14" height="10.15" fill="#bcd2f7"/>
<rect x="307.30" y="98.40" width="10.14" height="10.15" fill="#b40426"/>
<rect x="317.09" y="98.40" width="10.14" height="10.15" fill="#f18d6f"/>
<rect x="326.88" y="98.40" width="10.14" height="10.15" fill="#d85646"/>
<rect x="336.68" y="98.40" width="10.14" height="10.15" fill="#a9c6fd"/>
<rect x="346.48" y="98.40" width="10.14" height="10.15" fill="#e67259"/>
<rect x="356.27" y="98.40" width="10.14" height="10.15" fill="#d1493f"/>
<rect x="366.06" y="98.40" width="10.14" height="10.15" fill="#f3c8b2"/>
<rect x="375.86" y="98.40" width="10.14" height="10.15" fill="#b40426"/>
<rect x="385.65" y="98.40" width="10.14" height="10.15" fill="#b40426"/>
<rect x="395.45" y="98.40" width="10.14" height="10.15" fill="#b40426"/>
<rect x="405.25" y="98.40" width="10.14" height="10.15" fill="#b40426"/>
<rect x="415.04" y="98.40" width="10.14" height="10.15" fill="#b40426"/>
<rect x="424.83" y="98.40" width="10.14" height="10.15" fill="#f7ba9f"/>
<rect x="434.63" y="98.40" width="10.14" height="10.15" fill="#f18d6f"/>
<rect x="444.43" y="98.40" width="10.14" height="10.15" fill="#6e90f2"/>
<rect x="454.22" y="98.40" width="10.14" height="10.15" fill="#4358cb"/>
<rect x="464.01" y="98.40" width="10.14" height="10.15" fill="#e26952"/>
<rect x="473.81" y="98.40" width="10.14" height="10.15" fill="#c73635"/>
<rect x="483.61" y="98.40" width="10.14" height="10.15" fill="#b40426"/>
<rect x="493.40" y="98.40" width="10.14" height="10.15" fill="#b40426"/>
<rect x="503.19" y="98.40" width="10.14" height="10.15" fill="#b40426"/>
<rect x="297.50" y="108.20" width="10.14" height="10.15" fill="#bcd2f7"/>
<rect x="307.30" y="108.20" width="10.14" height="10.15" fill="#b40426"/>
<rect x="317.09" y="108.20" width="10.14" height="10.15" fill="#b40426"/>
<rect x="326.88" y="108.20" width="10.14" height="10.15" fill="#b40426"/>
<rect x="336.68" y="108.20" width="10.14" height="10.15" fill="#4358cb"/>
<rect x="346.48" y="108.20" width="10.14" height="10.15" fill="#f7b093"/>
<rect x="356.27" y="108.20" width="10.14" height="10.15" fill="#b40426"/>
<rect x="366.06" y="108.20" width="10.14" height="10.15" fill="#4358cb"/>
<rect x="375.86" y="108.20" width="10.14" height="10.15" fill="#b40426"/>
<rect x="385.65" y="108.20" width="10.14" height="10.15" fill="#b40426"/>
<rect x="395.45" y="108.20" width="10.14" height="10.15" fill="#f18d6f"/>
<rect x="405.25" y="108.20" width="10.14" height="10.15" fill="#f18d6f"/>
<rect x="415.04" y="108.20" width="10.14" height="10.15" fill="#b40426"/>
<rect x="424.83" y="108.20" width="10.14" height="10.15" fill="#ead4c8"/>
<rect x="434.63" y="108.20" width="10.14" height="10.15" fill="#b40426"/>
<rect x="444.43" y="108.20" width="10.14" height="10.15" fill="#3b4cc0"/>
<rect x="454.22" y="108.20" width="10.14" height="10.15" fill="#3b4cc0"/>
<rect x="464.01" y="108.20" width="10.14" height="10.15" fill="#e67259"/>
<rect x="473.81" y="108.20" width="10.14" height="10.15" fill="#b40426"/>
<rect x="483.61" y="108.20" width="10.14" height="10.15" fill="#b40426"/>
<rect x="493.40" y="108.20" width="10.14" height="10.15" fill="#b40426"/>
<rect x="503.19" y="108.20" width="10.14" height="10.15" fill="#b40426"/>
<rect x="297.50" y="20.00" width="215.49" height="98.00" fill="none" stroke="#444" stroke-width="0.8"/>
<line x1="295.50" y1="24.90" x2="297.50" y2="24.90" stroke="#333" stroke-width="0.5"/>
<text class="s" x="293.40" y="25.10" font-size="7" text-anchor="end" dominant-baseline="central">0</text>
<line x1="295.50" y1="34.70" x2="297.50" y2="34.70" stroke="#333" stroke-width="0.5"/>
<text class="s" x="293.40" y="34.90" font-size="7" text-anchor="end" dominant-baseline="central">1</text>
<line x1="295.50" y1="44.50" x2="297.50" y2="44.50" stroke="#333" stroke-width="0.5"/>
<text class="s" x="293.40" y="44.70" font-size="7" text-anchor="end" dominant-baseline="central">2</text>
<line x1="295.50" y1="54.30" x2="297.50" y2="54.30" stroke="#333" stroke-width="0.5"/>
<text class="s" x="293.40" y="54.50" font-size="7" text-anchor="end" dominant-baseline="central">3</text>
<line x1="295.50" y1="64.10" x2="297.50" y2="64.10" stroke="#333" stroke-width="0.5"/>
<text class="s" x="293.40" y="64.30" font-size="7" text-anchor="end" dominant-baseline="central">4</text>
<line x1="295.50" y1="73.90" x2="297.50" y2="73.90" stroke="#333" stroke-width="0.5"/>
<text class="s" x="293.40" y="74.10" font-size="7" text-anchor="end" dominant-baseline="central">5</text>
<line x1="295.50" y1="83.70" x2="297.50" y2="83.70" stroke="#333" stroke-width="0.5"/>
<text class="s" x="293.40" y="83.90" font-size="7" text-anchor="end" dominant-baseline="central">6</text>
<line x1="295.50" y1="93.50" x2="297.50" y2="93.50" stroke="#333" stroke-width="0.5"/>
<text class="s" x="293.40" y="93.70" font-size="7" text-anchor="end" dominant-baseline="central">7</text>
<line x1="295.50" y1="103.30" x2="297.50" y2="103.30" stroke="#333" stroke-width="0.5"/>
<text class="s" x="293.40" y="103.50" font-size="7" text-anchor="end" dominant-baseline="central">8</text>
<line x1="295.50" y1="113.10" x2="297.50" y2="113.10" stroke="#333" stroke-width="0.5"/>
<text class="s" x="293.40" y="113.30" font-size="7" text-anchor="end" dominant-baseline="central">9</text>
<line x1="302.40" y1="118.00" x2="302.40" y2="120.00" stroke="#333" stroke-width="0.5"/>
<text class="x" transform="translate(302.40,122.30) rotate(-90)" font-size="7" letter-spacing="0.2" text-anchor="end" dominant-baseline="central">Open</text>
<line x1="312.19" y1="118.00" x2="312.19" y2="120.00" stroke="#333" stroke-width="0.5"/>
<text class="x" transform="translate(312.19,122.30) rotate(-90)" font-size="7" letter-spacing="0.2" text-anchor="end" dominant-baseline="central">Genial</text>
<line x1="321.99" y1="118.00" x2="321.99" y2="120.00" stroke="#333" stroke-width="0.5"/>
<text class="x" transform="translate(321.99,122.30) rotate(-90)" font-size="7" letter-spacing="0.2" text-anchor="end" dominant-baseline="central">Lively</text>
<line x1="331.78" y1="118.00" x2="331.78" y2="120.00" stroke="#333" stroke-width="0.5"/>
<text class="x" transform="translate(331.78,122.30) rotate(-90)" font-size="7" letter-spacing="0.2" text-anchor="end" dominant-baseline="central">Cosy</text>
<line x1="341.58" y1="118.00" x2="341.58" y2="120.00" stroke="#333" stroke-width="0.5"/>
<text class="x" transform="translate(341.58,122.30) rotate(-90)" font-size="7" letter-spacing="0.2" text-anchor="end" dominant-baseline="central">Green</text>
<line x1="351.37" y1="118.00" x2="351.37" y2="120.00" stroke="#333" stroke-width="0.5"/>
<text class="x" transform="translate(351.37,122.30) rotate(-90)" font-size="7" letter-spacing="0.2" text-anchor="end" dominant-baseline="central">Sedate</text>
<line x1="361.17" y1="118.00" x2="361.17" y2="120.00" stroke="#333" stroke-width="0.5"/>
<text class="x" transform="translate(361.17,122.30) rotate(-90)" font-size="7" letter-spacing="0.2" text-anchor="end" dominant-baseline="central">Bright</text>
<line x1="370.96" y1="118.00" x2="370.96" y2="120.00" stroke="#333" stroke-width="0.5"/>
<text class="x" transform="translate(370.96,122.30) rotate(-90)" font-size="7" letter-spacing="0.2" text-anchor="end" dominant-baseline="central">Antiquated</text>
<line x1="380.76" y1="118.00" x2="380.76" y2="120.00" stroke="#333" stroke-width="0.5"/>
<text class="x" transform="translate(380.76,122.30) rotate(-90)" font-size="7" letter-spacing="0.2" text-anchor="end" dominant-baseline="central">Safe</text>
<line x1="390.55" y1="118.00" x2="390.55" y2="120.00" stroke="#333" stroke-width="0.5"/>
<text class="x" transform="translate(390.55,122.30) rotate(-90)" font-size="7" letter-spacing="0.2" text-anchor="end" dominant-baseline="central">Refreshing</text>
<line x1="400.35" y1="118.00" x2="400.35" y2="120.00" stroke="#333" stroke-width="0.5"/>
<text class="x" transform="translate(400.35,122.30) rotate(-90)" font-size="7" letter-spacing="0.2" text-anchor="end" dominant-baseline="central">Vitality</text>
<line x1="410.14" y1="118.00" x2="410.14" y2="120.00" stroke="#333" stroke-width="0.5"/>
<text class="x" transform="translate(410.14,122.30) rotate(-90)" font-size="7" letter-spacing="0.2" text-anchor="end" dominant-baseline="central">Comfortable</text>
<line x1="419.94" y1="118.00" x2="419.94" y2="120.00" stroke="#333" stroke-width="0.5"/>
<text class="x" transform="translate(419.94,122.30) rotate(-90)" font-size="7" letter-spacing="0.2" text-anchor="end" dominant-baseline="central">Clean</text>
<line x1="429.73" y1="118.00" x2="429.73" y2="120.00" stroke="#333" stroke-width="0.5"/>
<text class="x" transform="translate(429.73,122.30) rotate(-90)" font-size="7" letter-spacing="0.2" text-anchor="end" dominant-baseline="central">Beautiful</text>
<line x1="439.53" y1="118.00" x2="439.53" y2="120.00" stroke="#333" stroke-width="0.5"/>
<text class="x" transform="translate(439.53,122.30) rotate(-90)" font-size="7" letter-spacing="0.2" text-anchor="end" dominant-baseline="central">Affluent</text>
<line x1="449.32" y1="118.00" x2="449.32" y2="120.00" stroke="#333" stroke-width="0.5"/>
<text class="x" transform="translate(449.32,122.30) rotate(-90)" font-size="7" letter-spacing="0.2" text-anchor="end" dominant-baseline="central">Boring</text>
<line x1="459.12" y1="118.00" x2="459.12" y2="120.00" stroke="#333" stroke-width="0.5"/>
<text class="x" transform="translate(459.12,122.30) rotate(-90)" font-size="7" letter-spacing="0.2" text-anchor="end" dominant-baseline="central">Depressing</text>
<line x1="468.91" y1="118.00" x2="468.91" y2="120.00" stroke="#333" stroke-width="0.5"/>
<text class="x" transform="translate(468.91,122.30) rotate(-90)" font-size="7" letter-spacing="0.2" text-anchor="end" dominant-baseline="central">Pleasing</text>
<line x1="478.71" y1="118.00" x2="478.71" y2="120.00" stroke="#333" stroke-width="0.5"/>
<text class="x" transform="translate(478.71,122.30) rotate(-90)" font-size="7" letter-spacing="0.2" text-anchor="end" dominant-baseline="central">Interesting</text>
<line x1="488.50" y1="118.00" x2="488.50" y2="120.00" stroke="#333" stroke-width="0.5"/>
<text class="x" transform="translate(488.50,122.30) rotate(-90)" font-size="7" letter-spacing="0.2" text-anchor="end" dominant-baseline="central">Habitable</text>
<line x1="498.30" y1="118.00" x2="498.30" y2="120.00" stroke="#333" stroke-width="0.5"/>
<text class="x" transform="translate(498.30,122.30) rotate(-90)" font-size="7" letter-spacing="0.2" text-anchor="end" dominant-baseline="central">Passable</text>
<line x1="508.09" y1="118.00" x2="508.09" y2="120.00" stroke="#333" stroke-width="0.5"/>
<text class="x" transform="translate(508.09,122.30) rotate(-90)" font-size="7" letter-spacing="0.2" text-anchor="end" dominant-baseline="central">Charming</text>
<text class="t" x="415.00" y="10.00" font-size="10.3" text-anchor="middle">(b) Day/Move</text>
<text class="t" transform="translate(281.00,68.60) rotate(-90)" font-size="7.3" text-anchor="middle" dominant-baseline="central" style="fill:#333">Pflow class</text>
<rect x="526.20" y="18.30" width="5.50" height="101.70" fill="url(#cb)" stroke="#333" stroke-width="0.5"/>
<line x1="531.70" y1="120.00" x2="533.70" y2="120.00" stroke="#333" stroke-width="0.5"/>
<text class="s" x="535.70" y="120.20" font-size="7" dominant-baseline="central">0.0</text>
<line x1="531.70" y1="99.66" x2="533.70" y2="99.66" stroke="#333" stroke-width="0.5"/>
<text class="s" x="535.70" y="99.86" font-size="7" dominant-baseline="central">0.2</text>
<line x1="531.70" y1="79.32" x2="533.70" y2="79.32" stroke="#333" stroke-width="0.5"/>
<text class="s" x="535.70" y="79.52" font-size="7" dominant-baseline="central">0.4</text>
<line x1="531.70" y1="58.98" x2="533.70" y2="58.98" stroke="#333" stroke-width="0.5"/>
<text class="s" x="535.70" y="59.18" font-size="7" dominant-baseline="central">0.6</text>
<line x1="531.70" y1="38.64" x2="533.70" y2="38.64" stroke="#333" stroke-width="0.5"/>
<text class="s" x="535.70" y="38.84" font-size="7" dominant-baseline="central">0.8</text>
<line x1="531.70" y1="18.30" x2="533.70" y2="18.30" stroke="#333" stroke-width="0.5"/>
<text class="s" x="535.70" y="18.50" font-size="7" dominant-baseline="central">1.0</text>
<rect x="21.40" y="185.00" width="10.17" height="10.15" fill="#f5c1a9"/>
<rect x="31.22" y="185.00" width="10.17" height="10.15" fill="#3b4cc0"/>
<rect x="41.04" y="185.00" width="10.17" height="10.15" fill="#3b4cc0"/>
<rect x="50.86" y="185.00" width="10.17" height="10.15" fill="#3b4cc0"/>
<rect x="60.68" y="185.00" width="10.17" height="10.15" fill="#e67259"/>
<rect x="70.50" y="185.00" width="10.17" height="10.15" fill="#3b4cc0"/>
<rect x="80.32" y="185.00" width="10.17" height="10.15" fill="#3b4cc0"/>
<rect x="90.14" y="185.00" width="10.17" height="10.15" fill="#3b4cc0"/>
<rect x="99.96" y="185.00" width="10.17" height="10.15" fill="#3b4cc0"/>
<rect x="109.78" y="185.00" width="10.17" height="10.15" fill="#3b4cc0"/>
<rect x="119.60" y="185.00" width="10.17" height="10.15" fill="#3b4cc0"/>
<rect x="129.42" y="185.00" width="10.17" height="10.15" fill="#3b4cc0"/>
<rect x="139.24" y="185.00" width="10.17" height="10.15" fill="#3b4cc0"/>
<rect x="149.06" y="185.00" width="10.17" height="10.15" fill="#3b4cc0"/>
<rect x="158.88" y="185.00" width="10.17" height="10.15" fill="#3b4cc0"/>
<rect x="168.70" y="185.00" width="10.17" height="10.15" fill="#b40426"/>
<rect x="178.52" y="185.00" width="10.17" height="10.15" fill="#b40426"/>
<rect x="188.34" y="185.00" width="10.17" height="10.15" fill="#3b4cc0"/>
<rect x="198.16" y="185.00" width="10.17" height="10.15" fill="#3b4cc0"/>
<rect x="207.98" y="185.00" width="10.17" height="10.15" fill="#3b4cc0"/>
<rect x="217.80" y="185.00" width="10.17" height="10.15" fill="#3b4cc0"/>
<rect x="227.62" y="185.00" width="10.17" height="10.15" fill="#3b4cc0"/>
<rect x="21.40" y="194.80" width="10.17" height="10.15" fill="#cf453c"/>
<rect x="31.22" y="194.80" width="10.17" height="10.15" fill="#b5cdfa"/>
<rect x="41.04" y="194.80" width="10.17" height="10.15" fill="#96b7ff"/>
<rect x="50.86" y="194.80" width="10.17" height="10.15" fill="#d7dce3"/>
<rect x="60.68" y="194.80" width="10.17" height="10.15" fill="#b40426"/>
<rect x="70.50" y="194.80" width="10.17" height="10.15" fill="#c6d6f1"/>
<rect x="80.32" y="194.80" width="10.17" height="10.15" fill="#c6d6f1"/>
<rect x="90.14" y="194.80" width="10.17" height="10.15" fill="#cdd9ec"/>
<rect x="99.96" y="194.80" width="10.17" height="10.15" fill="#d4dbe6"/>
<rect x="109.78" y="194.80" width="10.17" height="10.15" fill="#f7b79b"/>
<rect x="119.60" y="194.80" width="10.17" height="10.15" fill="#6e90f2"/>
<rect x="129.42" y="194.80" width="10.17" height="10.15" fill="#b5cdfa"/>
<rect x="139.24" y="194.80" width="10.17" height="10.15" fill="#f3c8b2"/>
<rect x="149.06" y="194.80" width="10.17" height="10.15" fill="#b40426"/>
<rect x="158.88" y="194.80" width="10.17" height="10.15" fill="#b5cdfa"/>
<rect x="168.70" y="194.80" width="10.17" height="10.15" fill="#c73635"/>
<rect x="178.52" y="194.80" width="10.17" height="10.15" fill="#ead4c8"/>
<rect x="188.34" y="194.80" width="10.17" height="10.15" fill="#e67259"/>
<rect x="198.16" y="194.80" width="10.17" height="10.15" fill="#e67259"/>
<rect x="207.98" y="194.80" width="10.17" height="10.15" fill="#cdd9ec"/>
<rect x="217.80" y="194.80" width="10.17" height="10.15" fill="#f7b093"/>
<rect x="227.62" y="194.80" width="10.17" height="10.15" fill="#f7b093"/>
<rect x="21.40" y="204.60" width="10.17" height="10.15" fill="#f18d6f"/>
<rect x="31.22" y="204.60" width="10.17" height="10.15" fill="#b5cdfa"/>
<rect x="41.04" y="204.60" width="10.17" height="10.15" fill="#9ebeff"/>
<rect x="50.86" y="204.60" width="10.17" height="10.15" fill="#d7dce3"/>
<rect x="60.68" y="204.60" width="10.17" height="10.15" fill="#d85646"/>
<rect x="70.50" y="204.60" width="10.17" height="10.15" fill="#cdd9ec"/>
<rect x="80.32" y="204.60" width="10.17" height="10.15" fill="#c6d6f1"/>
<rect x="90.14" y="204.60" width="10.17" height="10.15" fill="#f6a385"/>
<rect x="99.96" y="204.60" width="10.17" height="10.15" fill="#cdd9ec"/>
<rect x="109.78" y="204.60" width="10.17" height="10.15" fill="#f7b093"/>
<rect x="119.60" y="204.60" width="10.17" height="10.15" fill="#8db0fe"/>
<rect x="129.42" y="204.60" width="10.17" height="10.15" fill="#cdd9ec"/>
<rect x="139.24" y="204.60" width="10.17" height="10.15" fill="#f3c8b2"/>
<rect x="149.06" y="204.60" width="10.17" height="10.15" fill="#d85646"/>
<rect x="158.88" y="204.60" width="10.17" height="10.15" fill="#cdd9ec"/>
<rect x="168.70" y="204.60" width="10.17" height="10.15" fill="#f18d6f"/>
<rect x="178.52" y="204.60" width="10.17" height="10.15" fill="#d7dce3"/>
<rect x="188.34" y="204.60" width="10.17" height="10.15" fill="#f6a385"/>
<rect x="198.16" y="204.60" width="10.17" height="10.15" fill="#e67259"/>
<rect x="207.98" y="204.60" width="10.17" height="10.15" fill="#cdd9ec"/>
<rect x="217.80" y="204.60" width="10.17" height="10.15" fill="#f7ba9f"/>
<rect x="227.62" y="204.60" width="10.17" height="10.15" fill="#f7ba9f"/>
<rect x="21.40" y="214.40" width="10.17" height="10.15" fill="#b40426"/>
<rect x="31.22" y="214.40" width="10.17" height="10.15" fill="#d7dce3"/>
<rect x="41.04" y="214.40" width="10.17" height="10.15" fill="#bcd2f7"/>
<rect x="50.86" y="214.40" width="10.17" height="10.15" fill="#f7ba9f"/>
<rect x="60.68" y="214.40" width="10.17" height="10.15" fill="#f7ba9f"/>
<rect x="70.50" y="214.40" width="10.17" height="10.15" fill="#f7ba9f"/>
<rect x="80.32" y="214.40" width="10.17" height="10.15" fill="#f0cdbb"/>
<rect x="90.14" y="214.40" width="10.17" height="10.15" fill="#f0cdbb"/>
<rect x="99.96" y="214.40" width="10.17" height="10.15" fill="#f7b093"/>
<rect x="109.78" y="214.40" width="10.17" height="10.15" fill="#b40426"/>
<rect x="119.60" y="214.40" width="10.17" height="10.15" fill="#b5cdfa"/>
<rect x="129.42" y="214.40" width="10.17" height="10.15" fill="#f0cdbb"/>
<rect x="139.24" y="214.40" width="10.17" height="10.15" fill="#f7b093"/>
<rect x="149.06" y="214.40" width="10.17" height="10.15" fill="#f18d6f"/>
<rect x="158.88" y="214.40" width="10.17" height="10.15" fill="#c6d6f1"/>
<rect x="168.70" y="214.40" width="10.17" height="10.15" fill="#e5d8d1"/>
<rect x="178.52" y="214.40" width="10.17" height="10.15" fill="#3b4cc0"/>
<rect x="188.34" y="214.40" width="10.17" height="10.15" fill="#e26952"/>
<rect x="198.16" y="214.40" width="10.17" height="10.15" fill="#dddcdc"/>
<rect x="207.98" y="214.40" width="10.17" height="10.15" fill="#edd2c3"/>
<rect x="217.80" y="214.40" width="10.17" height="10.15" fill="#f7b093"/>
<rect x="227.62" y="214.40" width="10.17" height="10.15" fill="#eb7d62"/>
<rect x="21.40" y="224.20" width="10.17" height="10.15" fill="#f7b093"/>
<rect x="31.22" y="224.20" width="10.17" height="10.15" fill="#bcd2f7"/>
<rect x="41.04" y="224.20" width="10.17" height="10.15" fill="#b5cdfa"/>
<rect x="50.86" y="224.20" width="10.17" height="10.15" fill="#dddcdc"/>
<rect x="60.68" y="224.20" width="10.17" height="10.15" fill="#be242e"/>
<rect x="70.50" y="224.20" width="10.17" height="10.15" fill="#f7ba9f"/>
<rect x="80.32" y="224.20" width="10.17" height="10.15" fill="#f0cdbb"/>
<rect x="90.14" y="224.20" width="10.17" height="10.15" fill="#d85646"/>
<rect x="99.96" y="224.20" width="10.17" height="10.15" fill="#f7ba9f"/>
<rect x="109.78" y="224.20" width="10.17" height="10.15" fill="#e26952"/>
<rect x="119.60" y="224.20" width="10.17" height="10.15" fill="#c4d5f3"/>
<rect x="129.42" y="224.20" width="10.17" height="10.15" fill="#f0cdbb"/>
<rect x="139.24" y="224.20" width="10.17" height="10.15" fill="#f7ba9f"/>
<rect x="149.06" y="224.20" width="10.17" height="10.15" fill="#d85646"/>
<rect x="158.88" y="224.20" width="10.17" height="10.15" fill="#d7dce3"/>
<rect x="168.70" y="224.20" width="10.17" height="10.15" fill="#f7ba9f"/>
<rect x="178.52" y="224.20" width="10.17" height="10.15" fill="#a2c1ff"/>
<rect x="188.34" y="224.20" width="10.17" height="10.15" fill="#f18d6f"/>
<rect x="198.16" y="224.20" width="10.17" height="10.15" fill="#f7b093"/>
<rect x="207.98" y="224.20" width="10.17" height="10.15" fill="#f0cdbb"/>
<rect x="217.80" y="224.20" width="10.17" height="10.15" fill="#f7ba9f"/>
<rect x="227.62" y="224.20" width="10.17" height="10.15" fill="#f7b093"/>
<rect x="21.40" y="234.00" width="10.17" height="10.15" fill="#d7dce3"/>
<rect x="31.22" y="234.00" width="10.17" height="10.15" fill="#edd2c3"/>
<rect x="41.04" y="234.00" width="10.17" height="10.15" fill="#edd2c3"/>
<rect x="50.86" y="234.00" width="10.17" height="10.15" fill="#f7ba9f"/>
<rect x="60.68" y="234.00" width="10.17" height="10.15" fill="#f7ba9f"/>
<rect x="70.50" y="234.00" width="10.17" height="10.15" fill="#e67259"/>
<rect x="80.32" y="234.00" width="10.17" height="10.15" fill="#f6a385"/>
<rect x="90.14" y="234.00" width="10.17" height="10.15" fill="#e26952"/>
<rect x="99.96" y="234.00" width="10.17" height="10.15" fill="#f6a385"/>
<rect x="109.78" y="234.00" width="10.17" height="10.15" fill="#df634e"/>
<rect x="119.60" y="234.00" width="10.17" height="10.15" fill="#ead4c8"/>
<rect x="129.42" y="234.00" width="10.17" height="10.15" fill="#f6a385"/>
<rect x="139.24" y="234.00" width="10.17" height="10.15" fill="#f18d6f"/>
<rect x="149.06" y="234.00" width="10.17" height="10.15" fill="#e67259"/>
<rect x="158.88" y="234.00" width="10.17" height="10.15" fill="#f3c8b2"/>
<rect x="168.70" y="234.00" width="10.17" height="10.15" fill="#c6d6f1"/>
<rect x="178.52" y="234.00" width="10.17" height="10.15" fill="#6788ee"/>
<rect x="188.34" y="234.00" width="10.17" height="10.15" fill="#e26952"/>
<rect x="198.16" y="234.00" width="10.17" height="10.15" fill="#f6a385"/>
<rect x="207.98" y="234.00" width="10.17" height="10.15" fill="#f7ba9f"/>
<rect x="217.80" y="234.00" width="10.17" height="10.15" fill="#f18d6f"/>
<rect x="227.62" y="234.00" width="10.17" height="10.15" fill="#e67259"/>
<rect x="21.40" y="243.80" width="10.17" height="10.15" fill="#96b7ff"/>
<rect x="31.22" y="243.80" width="10.17" height="10.15" fill="#f7b093"/>
<rect x="41.04" y="243.80" width="10.17" height="10.15" fill="#f7b093"/>
<rect x="50.86" y="243.80" width="10.17" height="10.15" fill="#f6a385"/>
<rect x="60.68" y="243.80" width="10.17" height="10.15" fill="#dddcdc"/>
<rect x="70.50" y="243.80" width="10.17" height="10.15" fill="#df634e"/>
<rect x="80.32" y="243.80" width="10.17" height="10.15" fill="#f6a385"/>
<rect x="90.14" y="243.80" width="10.17" height="10.15" fill="#b40426"/>
<rect x="99.96" y="243.80" width="10.17" height="10.15" fill="#e67259"/>
<rect x="109.78" y="243.80" width="10.17" height="10.15" fill="#f18d6f"/>
<rect x="119.60" y="243.80" width="10.17" height="10.15" fill="#f18d6f"/>
<rect x="129.42" y="243.80" width="10.17" height="10.15" fill="#f18d6f"/>
<rect x="139.24" y="243.80" width="10.17" height="10.15" fill="#eb7d62"/>
<rect x="149.06" y="243.80" width="10.17" height="10.15" fill="#f7b093"/>
<rect x="158.88" y="243.80" width="10.17" height="10.15" fill="#f7b093"/>
<rect x="168.70" y="243.80" width="10.17" height="10.15" fill="#a9c6fd"/>
<rect x="178.52" y="243.80" width="10.17" height="10.15" fill="#7699f6"/>
<rect x="188.34" y="243.80" width="10.17" height="10.15" fill="#f6a385"/>
<rect x="198.16" y="243.80" width="10.17" height="10.15" fill="#f18d6f"/>
<rect x="207.98" y="243.80" width="10.17" height="10.15" fill="#f18d6f"/>
<rect x="217.80" y="243.80" width="10.17" height="10.15" fill="#eb7d62"/>
<rect x="227.62" y="243.80" width="10.17" height="10.15" fill="#eb7d62"/>
<rect x="21.40" y="253.60" width="10.17" height="10.15" fill="#6e90f2"/>
<rect x="31.22" y="253.60" width="10.17" height="10.15" fill="#d85646"/>
<rect x="41.04" y="253.60" width="10.17" height="10.15" fill="#f6a385"/>
<rect x="50.86" y="253.60" width="10.17" height="10.15" fill="#e67259"/>
<rect x="60.68" y="253.60" width="10.17" height="10.15" fill="#f7ba9f"/>
<rect x="70.50" y="253.60" width="10.17" height="10.15" fill="#b40426"/>
<rect x="80.32" y="253.60" width="10.17" height="10.15" fill="#d85646"/>
<rect x="90.14" y="253.60" width="10.17" height="10.15" fill="#c73635"/>
<rect x="99.96" y="253.60" width="10.17" height="10.15" fill="#c73635"/>
<rect x="109.78" y="253.60" width="10.17" height="10.15" fill="#f7b093"/>
<rect x="119.60" y="253.60" width="10.17" height="10.15" fill="#d55042"/>
<rect x="129.42" y="253.60" width="10.17" height="10.15" fill="#cf453c"/>
<rect x="139.24" y="253.60" width="10.17" height="10.15" fill="#cf453c"/>
<rect x="149.06" y="253.60" width="10.17" height="10.15" fill="#f18d6f"/>
<rect x="158.88" y="253.60" width="10.17" height="10.15" fill="#eb7d62"/>
<rect x="168.70" y="253.60" width="10.17" height="10.15" fill="#6788ee"/>
<rect x="178.52" y="253.60" width="10.17" height="10.15" fill="#516ddb"/>
<rect x="188.34" y="253.60" width="10.17" height="10.15" fill="#d85646"/>
<rect x="198.16" y="253.60" width="10.17" height="10.15" fill="#d85646"/>
<rect x="207.98" y="253.60" width="10.17" height="10.15" fill="#cf453c"/>
<rect x="217.80" y="253.60" width="10.17" height="10.15" fill="#c73635"/>
<rect x="227.62" y="253.60" width="10.17" height="10.15" fill="#c73635"/>
<rect x="21.40" y="263.40" width="10.17" height="10.15" fill="#5875e1"/>
<rect x="31.22" y="263.40" width="10.17" height="10.15" fill="#c73635"/>
<rect x="41.04" y="263.40" width="10.17" height="10.15" fill="#e67259"/>
<rect x="50.86" y="263.40" width="10.17" height="10.15" fill="#d1493f"/>
<rect x="60.68" y="263.40" width="10.17" height="10.15" fill="#a9c6fd"/>
<rect x="70.50" y="263.40" width="10.17" height="10.15" fill="#c73635"/>
<rect x="80.32" y="263.40" width="10.17" height="10.15" fill="#c73635"/>
<rect x="90.14" y="263.40" width="10.17" height="10.15" fill="#f3c8b2"/>
<rect x="99.96" y="263.40" width="10.17" height="10.15" fill="#b40426"/>
<rect x="109.78" y="263.40" width="10.17" height="10.15" fill="#f7b093"/>
<rect x="119.60" y="263.40" width="10.17" height="10.15" fill="#b40426"/>
<rect x="129.42" y="263.40" width="10.17" height="10.15" fill="#b40426"/>
<rect x="139.24" y="263.40" width="10.17" height="10.15" fill="#b40426"/>
<rect x="149.06" y="263.40" width="10.17" height="10.15" fill="#e67259"/>
<rect x="158.88" y="263.40" width="10.17" height="10.15" fill="#cf453c"/>
<rect x="168.70" y="263.40" width="10.17" height="10.15" fill="#5b7ae5"/>
<rect x="178.52" y="263.40" width="10.17" height="10.15" fill="#4a63d3"/>
<rect x="188.34" y="263.40" width="10.17" height="10.15" fill="#be242e"/>
<rect x="198.16" y="263.40" width="10.17" height="10.15" fill="#c73635"/>
<rect x="207.98" y="263.40" width="10.17" height="10.15" fill="#ba162b"/>
<rect x="217.80" y="263.40" width="10.17" height="10.15" fill="#b40426"/>
<rect x="227.62" y="263.40" width="10.17" height="10.15" fill="#b40426"/>
<rect x="21.40" y="273.20" width="10.17" height="10.15" fill="#3b4cc0"/>
<rect x="31.22" y="273.20" width="10.17" height="10.15" fill="#b40426"/>
<rect x="41.04" y="273.20" width="10.17" height="10.15" fill="#b40426"/>
<rect x="50.86" y="273.20" width="10.17" height="10.15" fill="#b40426"/>
<rect x="60.68" y="273.20" width="10.17" height="10.15" fill="#3b4cc0"/>
<rect x="70.50" y="273.20" width="10.17" height="10.15" fill="#e67259"/>
<rect x="80.32" y="273.20" width="10.17" height="10.15" fill="#b40426"/>
<rect x="90.14" y="273.20" width="10.17" height="10.15" fill="#4358cb"/>
<rect x="99.96" y="273.20" width="10.17" height="10.15" fill="#c73635"/>
<rect x="109.78" y="273.20" width="10.17" height="10.15" fill="#f3c8b2"/>
<rect x="119.60" y="273.20" width="10.17" height="10.15" fill="#d55042"/>
<rect x="129.42" y="273.20" width="10.17" height="10.15" fill="#e26952"/>
<rect x="139.24" y="273.20" width="10.17" height="10.15" fill="#cf453c"/>
<rect x="149.06" y="273.20" width="10.17" height="10.15" fill="#f7ba9f"/>
<rect x="158.88" y="273.20" width="10.17" height="10.15" fill="#b40426"/>
<rect x="168.70" y="273.20" width="10.17" height="10.15" fill="#3b4cc0"/>
<rect x="178.52" y="273.20" width="10.17" height="10.15" fill="#4a63d3"/>
<rect x="188.34" y="273.20" width="10.17" height="10.15" fill="#b40426"/>
<rect x="198.16" y="273.20" width="10.17" height="10.15" fill="#b40426"/>
<rect x="207.98" y="273.20" width="10.17" height="10.15" fill="#b40426"/>
<rect x="217.80" y="273.20" width="10.17" height="10.15" fill="#b40426"/>
<rect x="227.62" y="273.20" width="10.17" height="10.15" fill="#b40426"/>
<rect x="21.40" y="185.00" width="216.04" height="98.00" fill="none" stroke="#444" stroke-width="0.8"/>
<line x1="19.40" y1="189.90" x2="21.40" y2="189.90" stroke="#333" stroke-width="0.5"/>
<text class="s" x="17.30" y="190.10" font-size="7" text-anchor="end" dominant-baseline="central">0</text>
<line x1="19.40" y1="199.70" x2="21.40" y2="199.70" stroke="#333" stroke-width="0.5"/>
<text class="s" x="17.30" y="199.90" font-size="7" text-anchor="end" dominant-baseline="central">1</text>
<line x1="19.40" y1="209.50" x2="21.40" y2="209.50" stroke="#333" stroke-width="0.5"/>
<text class="s" x="17.30" y="209.70" font-size="7" text-anchor="end" dominant-baseline="central">2</text>
<line x1="19.40" y1="219.30" x2="21.40" y2="219.30" stroke="#333" stroke-width="0.5"/>
<text class="s" x="17.30" y="219.50" font-size="7" text-anchor="end" dominant-baseline="central">3</text>
<line x1="19.40" y1="229.10" x2="21.40" y2="229.10" stroke="#333" stroke-width="0.5"/>
<text class="s" x="17.30" y="229.30" font-size="7" text-anchor="end" dominant-baseline="central">4</text>
<line x1="19.40" y1="238.90" x2="21.40" y2="238.90" stroke="#333" stroke-width="0.5"/>
<text class="s" x="17.30" y="239.10" font-size="7" text-anchor="end" dominant-baseline="central">5</text>
<line x1="19.40" y1="248.70" x2="21.40" y2="248.70" stroke="#333" stroke-width="0.5"/>
<text class="s" x="17.30" y="248.90" font-size="7" text-anchor="end" dominant-baseline="central">6</text>
<line x1="19.40" y1="258.50" x2="21.40" y2="258.50" stroke="#333" stroke-width="0.5"/>
<text class="s" x="17.30" y="258.70" font-size="7" text-anchor="end" dominant-baseline="central">7</text>
<line x1="19.40" y1="268.30" x2="21.40" y2="268.30" stroke="#333" stroke-width="0.5"/>
<text class="s" x="17.30" y="268.50" font-size="7" text-anchor="end" dominant-baseline="central">8</text>
<line x1="19.40" y1="278.10" x2="21.40" y2="278.10" stroke="#333" stroke-width="0.5"/>
<text class="s" x="17.30" y="278.30" font-size="7" text-anchor="end" dominant-baseline="central">9</text>
<line x1="26.31" y1="283.00" x2="26.31" y2="285.00" stroke="#333" stroke-width="0.5"/>
<text class="x" transform="translate(26.31,287.30) rotate(-90)" font-size="7" letter-spacing="0.2" text-anchor="end" dominant-baseline="central">Open</text>
<line x1="36.13" y1="283.00" x2="36.13" y2="285.00" stroke="#333" stroke-width="0.5"/>
<text class="x" transform="translate(36.13,287.30) rotate(-90)" font-size="7" letter-spacing="0.2" text-anchor="end" dominant-baseline="central">Genial</text>
<line x1="45.95" y1="283.00" x2="45.95" y2="285.00" stroke="#333" stroke-width="0.5"/>
<text class="x" transform="translate(45.95,287.30) rotate(-90)" font-size="7" letter-spacing="0.2" text-anchor="end" dominant-baseline="central">Lively</text>
<line x1="55.77" y1="283.00" x2="55.77" y2="285.00" stroke="#333" stroke-width="0.5"/>
<text class="x" transform="translate(55.77,287.30) rotate(-90)" font-size="7" letter-spacing="0.2" text-anchor="end" dominant-baseline="central">Cosy</text>
<line x1="65.59" y1="283.00" x2="65.59" y2="285.00" stroke="#333" stroke-width="0.5"/>
<text class="x" transform="translate(65.59,287.30) rotate(-90)" font-size="7" letter-spacing="0.2" text-anchor="end" dominant-baseline="central">Green</text>
<line x1="75.41" y1="283.00" x2="75.41" y2="285.00" stroke="#333" stroke-width="0.5"/>
<text class="x" transform="translate(75.41,287.30) rotate(-90)" font-size="7" letter-spacing="0.2" text-anchor="end" dominant-baseline="central">Sedate</text>
<line x1="85.23" y1="283.00" x2="85.23" y2="285.00" stroke="#333" stroke-width="0.5"/>
<text class="x" transform="translate(85.23,287.30) rotate(-90)" font-size="7" letter-spacing="0.2" text-anchor="end" dominant-baseline="central">Bright</text>
<line x1="95.05" y1="283.00" x2="95.05" y2="285.00" stroke="#333" stroke-width="0.5"/>
<text class="x" transform="translate(95.05,287.30) rotate(-90)" font-size="7" letter-spacing="0.2" text-anchor="end" dominant-baseline="central">Antiquated</text>
<line x1="104.87" y1="283.00" x2="104.87" y2="285.00" stroke="#333" stroke-width="0.5"/>
<text class="x" transform="translate(104.87,287.30) rotate(-90)" font-size="7" letter-spacing="0.2" text-anchor="end" dominant-baseline="central">Safe</text>
<line x1="114.69" y1="283.00" x2="114.69" y2="285.00" stroke="#333" stroke-width="0.5"/>
<text class="x" transform="translate(114.69,287.30) rotate(-90)" font-size="7" letter-spacing="0.2" text-anchor="end" dominant-baseline="central">Refreshing</text>
<line x1="124.51" y1="283.00" x2="124.51" y2="285.00" stroke="#333" stroke-width="0.5"/>
<text class="x" transform="translate(124.51,287.30) rotate(-90)" font-size="7" letter-spacing="0.2" text-anchor="end" dominant-baseline="central">Vitality</text>
<line x1="134.33" y1="283.00" x2="134.33" y2="285.00" stroke="#333" stroke-width="0.5"/>
<text class="x" transform="translate(134.33,287.30) rotate(-90)" font-size="7" letter-spacing="0.2" text-anchor="end" dominant-baseline="central">Comfortable</text>
<line x1="144.15" y1="283.00" x2="144.15" y2="285.00" stroke="#333" stroke-width="0.5"/>
<text class="x" transform="translate(144.15,287.30) rotate(-90)" font-size="7" letter-spacing="0.2" text-anchor="end" dominant-baseline="central">Clean</text>
<line x1="153.97" y1="283.00" x2="153.97" y2="285.00" stroke="#333" stroke-width="0.5"/>
<text class="x" transform="translate(153.97,287.30) rotate(-90)" font-size="7" letter-spacing="0.2" text-anchor="end" dominant-baseline="central">Beautiful</text>
<line x1="163.79" y1="283.00" x2="163.79" y2="285.00" stroke="#333" stroke-width="0.5"/>
<text class="x" transform="translate(163.79,287.30) rotate(-90)" font-size="7" letter-spacing="0.2" text-anchor="end" dominant-baseline="central">Affluent</text>
<line x1="173.61" y1="283.00" x2="173.61" y2="285.00" stroke="#333" stroke-width="0.5"/>
<text class="x" transform="translate(173.61,287.30) rotate(-90)" font-size="7" letter-spacing="0.2" text-anchor="end" dominant-baseline="central">Boring</text>
<line x1="183.43" y1="283.00" x2="183.43" y2="285.00" stroke="#333" stroke-width="0.5"/>
<text class="x" transform="translate(183.43,287.30) rotate(-90)" font-size="7" letter-spacing="0.2" text-anchor="end" dominant-baseline="central">Depressing</text>
<line x1="193.25" y1="283.00" x2="193.25" y2="285.00" stroke="#333" stroke-width="0.5"/>
<text class="x" transform="translate(193.25,287.30) rotate(-90)" font-size="7" letter-spacing="0.2" text-anchor="end" dominant-baseline="central">Pleasing</text>
<line x1="203.07" y1="283.00" x2="203.07" y2="285.00" stroke="#333" stroke-width="0.5"/>
<text class="x" transform="translate(203.07,287.30) rotate(-90)" font-size="7" letter-spacing="0.2" text-anchor="end" dominant-baseline="central">Interesting</text>
<line x1="212.89" y1="283.00" x2="212.89" y2="285.00" stroke="#333" stroke-width="0.5"/>
<text class="x" transform="translate(212.89,287.30) rotate(-90)" font-size="7" letter-spacing="0.2" text-anchor="end" dominant-baseline="central">Habitable</text>
<line x1="222.71" y1="283.00" x2="222.71" y2="285.00" stroke="#333" stroke-width="0.5"/>
<text class="x" transform="translate(222.71,287.30) rotate(-90)" font-size="7" letter-spacing="0.2" text-anchor="end" dominant-baseline="central">Passable</text>
<line x1="232.53" y1="283.00" x2="232.53" y2="285.00" stroke="#333" stroke-width="0.5"/>
<text class="x" transform="translate(232.53,287.30) rotate(-90)" font-size="7" letter-spacing="0.2" text-anchor="end" dominant-baseline="central">Charming</text>
<text class="t" x="129.30" y="174.80" font-size="10.3" text-anchor="middle">(c) Night/Stay</text>
<text class="t" transform="translate(5.20,234.00) rotate(-90)" font-size="7.3" text-anchor="middle" dominant-baseline="central" style="fill:#333">Pflow class</text>
<rect x="250.10" y="183.00" width="5.80" height="102.00" fill="url(#cb)" stroke="#333" stroke-width="0.5"/>
<line x1="255.90" y1="285.00" x2="257.90" y2="285.00" stroke="#333" stroke-width="0.5"/>
<text class="s" x="259.90" y="285.20" font-size="7" dominant-baseline="central">0.0</text>
<line x1="255.90" y1="264.60" x2="257.90" y2="264.60" stroke="#333" stroke-width="0.5"/>
<text class="s" x="259.90" y="264.80" font-size="7" dominant-baseline="central">0.2</text>
<line x1="255.90" y1="244.20" x2="257.90" y2="244.20" stroke="#333" stroke-width="0.5"/>
<text class="s" x="259.90" y="244.40" font-size="7" dominant-baseline="central">0.4</text>
<line x1="255.90" y1="223.80" x2="257.90" y2="223.80" stroke="#333" stroke-width="0.5"/>
<text class="s" x="259.90" y="224.00" font-size="7" dominant-baseline="central">0.6</text>
<line x1="255.90" y1="203.40" x2="257.90" y2="203.40" stroke="#333" stroke-width="0.5"/>
<text class="s" x="259.90" y="203.60" font-size="7" dominant-baseline="central">0.8</text>
<line x1="255.90" y1="183.00" x2="257.90" y2="183.00" stroke="#333" stroke-width="0.5"/>
<text class="s" x="259.90" y="183.20" font-size="7" dominant-baseline="central">1.0</text>
<rect x="299.90" y="185.00" width="10.14" height="10.15" fill="#3b4cc0"/>
<rect x="309.69" y="185.00" width="10.14" height="10.15" fill="#3b4cc0"/>
<rect x="319.48" y="185.00" width="10.14" height="10.15" fill="#3b4cc0"/>
<rect x="329.27" y="185.00" width="10.14" height="10.15" fill="#3b4cc0"/>
<rect x="339.06" y="185.00" width="10.14" height="10.15" fill="#f7b79b"/>
<rect x="348.85" y="185.00" width="10.14" height="10.15" fill="#3b4cc0"/>
<rect x="358.64" y="185.00" width="10.14" height="10.15" fill="#3b4cc0"/>
<rect x="368.43" y="185.00" width="10.14" height="10.15" fill="#d7dce3"/>
<rect x="378.22" y="185.00" width="10.14" height="10.15" fill="#3b4cc0"/>
<rect x="388.01" y="185.00" width="10.14" height="10.15" fill="#3b4cc0"/>
<rect x="397.80" y="185.00" width="10.14" height="10.15" fill="#4358cb"/>
<rect x="407.59" y="185.00" width="10.14" height="10.15" fill="#3b4cc0"/>
<rect x="417.38" y="185.00" width="10.14" height="10.15" fill="#3b4cc0"/>
<rect x="427.17" y="185.00" width="10.14" height="10.15" fill="#cdd9ec"/>
<rect x="436.96" y="185.00" width="10.14" height="10.15" fill="#96b7ff"/>
<rect x="446.75" y="185.00" width="10.14" height="10.15" fill="#b40426"/>
<rect x="456.54" y="185.00" width="10.14" height="10.15" fill="#b40426"/>
<rect x="466.33" y="185.00" width="10.14" height="10.15" fill="#5b7ae5"/>
<rect x="476.12" y="185.00" width="10.14" height="10.15" fill="#bcd2f7"/>
<rect x="485.91" y="185.00" width="10.14" height="10.15" fill="#3b4cc0"/>
<rect x="495.70" y="185.00" width="10.14" height="10.15" fill="#3b4cc0"/>
<rect x="505.49" y="185.00" width="10.14" height="10.15" fill="#3b4cc0"/>
<rect x="299.90" y="194.80" width="10.14" height="10.15" fill="#6788ee"/>
<rect x="309.69" y="194.80" width="10.14" height="10.15" fill="#3b4cc0"/>
<rect x="319.48" y="194.80" width="10.14" height="10.15" fill="#4358cb"/>
<rect x="329.27" y="194.80" width="10.14" height="10.15" fill="#6e90f2"/>
<rect x="339.06" y="194.80" width="10.14" height="10.15" fill="#f7ba9f"/>
<rect x="348.85" y="194.80" width="10.14" height="10.15" fill="#6e90f2"/>
<rect x="358.64" y="194.80" width="10.14" height="10.15" fill="#4358cb"/>
<rect x="368.43" y="194.80" width="10.14" height="10.15" fill="#d7dce3"/>
<rect x="378.22" y="194.80" width="10.14" height="10.15" fill="#3b4cc0"/>
<rect x="388.01" y="194.80" width="10.14" height="10.15" fill="#6788ee"/>
<rect x="397.80" y="194.80" width="10.14" height="10.15" fill="#4358cb"/>
<rect x="407.59" y="194.80" width="10.14" height="10.15" fill="#5b7ae5"/>
<rect x="417.38" y="194.80" width="10.14" height="10.15" fill="#516ddb"/>
<rect x="427.17" y="194.80" width="10.14" height="10.15" fill="#3b4cc0"/>
<rect x="436.96" y="194.80" width="10.14" height="10.15" fill="#3b4cc0"/>
<rect x="446.75" y="194.80" width="10.14" height="10.15" fill="#f7b093"/>
<rect x="456.54" y="194.80" width="10.14" height="10.15" fill="#f7ba9f"/>
<rect x="466.33" y="194.80" width="10.14" height="10.15" fill="#3b4cc0"/>
<rect x="476.12" y="194.80" width="10.14" height="10.15" fill="#3b4cc0"/>
<rect x="485.91" y="194.80" width="10.14" height="10.15" fill="#3c4ec2"/>
<rect x="495.70" y="194.80" width="10.14" height="10.15" fill="#3c4ec2"/>
<rect x="505.49" y="194.80" width="10.14" height="10.15" fill="#6384eb"/>
<rect x="299.90" y="204.60" width="10.14" height="10.15" fill="#f18d6f"/>
<rect x="309.69" y="204.60" width="10.14" height="10.15" fill="#a9c6fd"/>
<rect x="319.48" y="204.60" width="10.14" height="10.15" fill="#7ea1fa"/>
<rect x="329.27" y="204.60" width="10.14" height="10.15" fill="#a9c6fd"/>
<rect x="339.06" y="204.60" width="10.14" height="10.15" fill="#f7ba9f"/>
<rect x="348.85" y="204.60" width="10.14" height="10.15" fill="#c6d6f1"/>
<rect x="358.64" y="204.60" width="10.14" height="10.15" fill="#96b7ff"/>
<rect x="368.43" y="204.60" width="10.14" height="10.15" fill="#f3c8b2"/>
<rect x="378.22" y="204.60" width="10.14" height="10.15" fill="#a9c6fd"/>
<rect x="388.01" y="204.60" width="10.14" height="10.15" fill="#d1dae9"/>
<rect x="397.80" y="204.60" width="10.14" height="10.15" fill="#7ea1fa"/>
<rect x="407.59" y="204.60" width="10.14" height="10.15" fill="#b5cdfa"/>
<rect x="417.38" y="204.60" width="10.14" height="10.15" fill="#cdd9ec"/>
<rect x="427.17" y="204.60" width="10.14" height="10.15" fill="#f3c8b2"/>
<rect x="436.96" y="204.60" width="10.14" height="10.15" fill="#bcd2f7"/>
<rect x="446.75" y="204.60" width="10.14" height="10.15" fill="#f7ba9f"/>
<rect x="456.54" y="204.60" width="10.14" height="10.15" fill="#c6d6f1"/>
<rect x="466.33" y="204.60" width="10.14" height="10.15" fill="#d7dce3"/>
<rect x="476.12" y="204.60" width="10.14" height="10.15" fill="#cdd9ec"/>
<rect x="485.91" y="204.60" width="10.14" height="10.15" fill="#a2c1ff"/>
<rect x="495.70" y="204.60" width="10.14" height="10.15" fill="#c6d6f1"/>
<rect x="505.49" y="204.60" width="10.14" height="10.15" fill="#cdd9ec"/>
<rect x="299.90" y="214.40" width="10.14" height="10.15" fill="#ead4c8"/>
<rect x="309.69" y="214.40" width="10.14" height="10.15" fill="#a9c6fd"/>
<rect x="319.48" y="214.40" width="10.14" height="10.15" fill="#82a6fb"/>
<rect x="329.27" y="214.40" width="10.14" height="10.15" fill="#a9c6fd"/>
<rect x="339.06" y="214.40" width="10.14" height="10.15" fill="#e67259"/>
<rect x="348.85" y="214.40" width="10.14" height="10.15" fill="#f0cdbb"/>
<rect x="358.64" y="214.40" width="10.14" height="10.15" fill="#a9c6fd"/>
<rect x="368.43" y="214.40" width="10.14" height="10.15" fill="#f18d6f"/>
<rect x="378.22" y="214.40" width="10.14" height="10.15" fill="#c6d6f1"/>
<rect x="388.01" y="214.40" width="10.14" height="10.15" fill="#d7dce3"/>
<rect x="397.80" y="214.40" width="10.14" height="10.15" fill="#a9c6fd"/>
<rect x="407.59" y="214.40" width="10.14" height="10.15" fill="#c6d6f1"/>
<rect x="417.38" y="214.40" width="10.14" height="10.15" fill="#d1dae9"/>
<rect x="427.17" y="214.40" width="10.14" height="10.15" fill="#f3c8b2"/>
<rect x="436.96" y="214.40" width="10.14" height="10.15" fill="#c0d4f5"/>
<rect x="446.75" y="214.40" width="10.14" height="10.15" fill="#f6a385"/>
<rect x="456.54" y="214.40" width="10.14" height="10.15" fill="#edd2c3"/>
<rect x="466.33" y="214.40" width="10.14" height="10.15" fill="#e5d8d1"/>
<rect x="476.12" y="214.40" width="10.14" height="10.15" fill="#dddcdc"/>
<rect x="485.91" y="214.40" width="10.14" height="10.15" fill="#cdd9ec"/>
<rect x="495.70" y="214.40" width="10.14" height="10.15" fill="#d4dbe6"/>
<rect x="505.49" y="214.40" width="10.14" height="10.15" fill="#d4dbe6"/>
<rect x="299.90" y="224.20" width="10.14" height="10.15" fill="#b40426"/>
<rect x="309.69" y="224.20" width="10.14" height="10.15" fill="#f7ba9f"/>
<rect x="319.48" y="224.20" width="10.14" height="10.15" fill="#c4d5f3"/>
<rect x="329.27" y="224.20" width="10.14" height="10.15" fill="#f7ba9f"/>
<rect x="339.06" y="224.20" width="10.14" height="10.15" fill="#b40426"/>
<rect x="348.85" y="224.20" width="10.14" height="10.15" fill="#be242e"/>
<rect x="358.64" y="224.20" width="10.14" height="10.15" fill="#f3c8b2"/>
<rect x="368.43" y="224.20" width="10.14" height="10.15" fill="#b40426"/>
<rect x="378.22" y="224.20" width="10.14" height="10.15" fill="#eb7d62"/>
<rect x="388.01" y="224.20" width="10.14" height="10.15" fill="#d1493f"/>
<rect x="397.80" y="224.20" width="10.14" height="10.15" fill="#e2dad5"/>
<rect x="407.59" y="224.20" width="10.14" height="10.15" fill="#f7b093"/>
<rect x="417.38" y="224.20" width="10.14" height="10.15" fill="#e67259"/>
<rect x="427.17" y="224.20" width="10.14" height="10.15" fill="#b40426"/>
<rect x="436.96" y="224.20" width="10.14" height="10.15" fill="#f0cdbb"/>
<rect x="446.75" y="224.20" width="10.14" height="10.15" fill="#dddcdc"/>
<rect x="456.54" y="224.20" width="10.14" height="10.15" fill="#7699f6"/>
<rect x="466.33" y="224.20" width="10.14" height="10.15" fill="#b40426"/>
<rect x="476.12" y="224.20" width="10.14" height="10.15" fill="#d1493f"/>
<rect x="485.91" y="224.20" width="10.14" height="10.15" fill="#f7b093"/>
<rect x="495.70" y="224.20" width="10.14" height="10.15" fill="#e67259"/>
<rect x="505.49" y="224.20" width="10.14" height="10.15" fill="#e26952"/>
<rect x="299.90" y="234.00" width="10.14" height="10.15" fill="#d85646"/>
<rect x="309.69" y="234.00" width="10.14" height="10.15" fill="#f7ba9f"/>
<rect x="319.48" y="234.00" width="10.14" height="10.15" fill="#d4dbe6"/>
<rect x="329.27" y="234.00" width="10.14" height="10.15" fill="#f6a385"/>
<rect x="339.06" y="234.00" width="10.14" height="10.15" fill="#f0cdbb"/>
<rect x="348.85" y="234.00" width="10.14" height="10.15" fill="#c73635"/>
<rect x="358.64" y="234.00" width="10.14" height="10.15" fill="#f3c8b2"/>
<rect x="368.43" y="234.00" width="10.14" height="10.15" fill="#b40426"/>
<rect x="378.22" y="234.00" width="10.14" height="10.15" fill="#df634e"/>
<rect x="388.01" y="234.00" width="10.14" height="10.15" fill="#b40426"/>
<rect x="397.80" y="234.00" width="10.14" height="10.15" fill="#f7ba9f"/>
<rect x="407.59" y="234.00" width="10.14" height="10.15" fill="#f6a385"/>
<rect x="417.38" y="234.00" width="10.14" height="10.15" fill="#e67259"/>
<rect x="427.17" y="234.00" width="10.14" height="10.15" fill="#e67259"/>
<rect x="436.96" y="234.00" width="10.14" height="10.15" fill="#f3c8b2"/>
<rect x="446.75" y="234.00" width="10.14" height="10.15" fill="#dddcdc"/>
<rect x="456.54" y="234.00" width="10.14" height="10.15" fill="#5b7ae5"/>
<rect x="466.33" y="234.00" width="10.14" height="10.15" fill="#d1493f"/>
<rect x="476.12" y="234.00" width="10.14" height="10.15" fill="#e67259"/>
<rect x="485.91" y="234.00" width="10.14" height="10.15" fill="#f7b093"/>
<rect x="495.70" y="234.00" width="10.14" height="10.15" fill="#e67259"/>
<rect x="505.49" y="234.00" width="10.14" height="10.15" fill="#e26952"/>
<rect x="299.90" y="243.80" width="10.14" height="10.15" fill="#efcfbf"/>
<rect x="309.69" y="243.80" width="10.14" height="10.15" fill="#f7ba9f"/>
<rect x="319.48" y="243.80" width="10.14" height="10.15" fill="#f3c8b2"/>
<rect x="329.27" y="243.80" width="10.14" height="10.15" fill="#f6a385"/>
<rect x="339.06" y="243.80" width="10.14" height="10.15" fill="#f3c8b2"/>
<rect x="348.85" y="243.80" width="10.14" height="10.15" fill="#c73635"/>
<rect x="358.64" y="243.80" width="10.14" height="10.15" fill="#f7ba9f"/>
<rect x="368.43" y="243.80" width="10.14" height="10.15" fill="#e67259"/>
<rect x="378.22" y="243.80" width="10.14" height="10.15" fill="#e67259"/>
<rect x="388.01" y="243.80" width="10.14" height="10.15" fill="#d85646"/>
<rect x="397.80" y="243.80" width="10.14" height="10.15" fill="#f3c8b2"/>
<rect x="407.59" y="243.80" width="10.14" height="10.15" fill="#f18d6f"/>
<rect x="417.38" y="243.80" width="10.14" height="10.15" fill="#d85646"/>
<rect x="427.17" y="243.80" width="10.14" height="10.15" fill="#eb7d62"/>
<rect x="436.96" y="243.80" width="10.14" height="10.15" fill="#f7b093"/>
<rect x="446.75" y="243.80" width="10.14" height="10.15" fill="#c4d5f3"/>
<rect x="456.54" y="243.80" width="10.14" height="10.15" fill="#6384eb"/>
<rect x="466.33" y="243.80" width="10.14" height="10.15" fill="#d85646"/>
<rect x="476.12" y="243.80" width="10.14" height="10.15" fill="#e26952"/>
<rect x="485.91" y="243.80" width="10.14" height="10.15" fill="#eb7d62"/>
<rect x="495.70" y="243.80" width="10.14" height="10.15" fill="#e26952"/>
<rect x="505.49" y="243.80" width="10.14" height="10.15" fill="#d85646"/>
<rect x="299.90" y="253.60" width="10.14" height="10.15" fill="#96b7ff"/>
<rect x="309.69" y="253.60" width="10.14" height="10.15" fill="#e26952"/>
<rect x="319.48" y="253.60" width="10.14" height="10.15" fill="#f6a385"/>
<rect x="329.27" y="253.60" width="10.14" height="10.15" fill="#eb7d62"/>
<rect x="339.06" y="253.60" width="10.14" height="10.15" fill="#dddcdc"/>
<rect x="348.85" y="253.60" width="10.14" height="10.15" fill="#b40426"/>
<rect x="358.64" y="253.60" width="10.14" height="10.15" fill="#e67259"/>
<rect x="368.43" y="253.60" width="10.14" height="10.15" fill="#e67259"/>
<rect x="378.22" y="253.60" width="10.14" height="10.15" fill="#cf453c"/>
<rect x="388.01" y="253.60" width="10.14" height="10.15" fill="#d85646"/>
<rect x="397.80" y="253.60" width="10.14" height="10.15" fill="#d85646"/>
<rect x="407.59" y="253.60" width="10.14" height="10.15" fill="#cf453c"/>
<rect x="417.38" y="253.60" width="10.14" height="10.15" fill="#cf453c"/>
<rect x="427.17" y="253.60" width="10.14" height="10.15" fill="#f6a385"/>
<rect x="436.96" y="253.60" width="10.14" height="10.15" fill="#f6a385"/>
<rect x="446.75" y="253.60" width="10.14" height="10.15" fill="#8db0fe"/>
<rect x="456.54" y="253.60" width="10.14" height="10.15" fill="#4a63d3"/>
<rect x="466.33" y="253.60" width="10.14" height="10.15" fill="#e26952"/>
<rect x="476.12" y="253.60" width="10.14" height="10.15" fill="#e26952"/>
<rect x="485.91" y="253.60" width="10.14" height="10.15" fill="#d1493f"/>
<rect x="495.70" y="253.60" width="10.14" height="10.15" fill="#d1493f"/>
<rect x="505.49" y="253.60" width="10.14" height="10.15" fill="#d1493f"/>
<rect x="299.90" y="263.40" width="10.14" height="10.15" fill="#4a63d3"/>
<rect x="309.69" y="263.40" width="10.14" height="10.15" fill="#c73635"/>
<rect x="319.48" y="263.40" width="10.14" height="10.15" fill="#e67259"/>
<rect x="329.27" y="263.40" width="10.14" height="10.15" fill="#d85646"/>
<rect x="339.06" y="263.40" width="10.14" height="10.15" fill="#a2c1ff"/>
<rect x="348.85" y="263.40" width="10.14" height="10.15" fill="#cf453c"/>
<rect x="358.64" y="263.40" width="10.14" height="10.15" fill="#d1493f"/>
<rect x="368.43" y="263.40" width="10.14" height="10.15" fill="#f7b093"/>
<rect x="378.22" y="263.40" width="10.14" height="10.15" fill="#b40426"/>
<rect x="388.01" y="263.40" width="10.14" height="10.15" fill="#eb7d62"/>
<rect x="397.80" y="263.40" width="10.14" height="10.15" fill="#b40426"/>
<rect x="407.59" y="263.40" width="10.14" height="10.15" fill="#b40426"/>
<rect x="417.38" y="263.40" width="10.14" height="10.15" fill="#d1493f"/>
<rect x="427.17" y="263.40" width="10.14" height="10.15" fill="#f3c8b2"/>
<rect x="436.96" y="263.40" width="10.14" height="10.15" fill="#f6a385"/>
<rect x="446.75" y="263.40" width="10.14" height="10.15" fill="#6e90f2"/>
<rect x="456.54" y="263.40" width="10.14" height="10.15" fill="#6e90f2"/>
<rect x="466.33" y="263.40" width="10.14" height="10.15" fill="#eb7d62"/>
<rect x="476.12" y="263.40" width="10.14" height="10.15" fill="#d85646"/>
<rect x="485.91" y="263.40" width="10.14" height="10.15" fill="#cf453c"/>
<rect x="495.70" y="263.40" width="10.14" height="10.15" fill="#cf453c"/>
<rect x="505.49" y="263.40" width="10.14" height="10.15" fill="#d1493f"/>
<rect x="299.90" y="273.20" width="10.14" height="10.15" fill="#a2c1ff"/>
<rect x="309.69" y="273.20" width="10.14" height="10.15" fill="#b40426"/>
<rect x="319.48" y="273.20" width="10.14" height="10.15" fill="#b40426"/>
<rect x="329.27" y="273.20" width="10.14" height="10.15" fill="#b40426"/>
<rect x="339.06" y="273.20" width="10.14" height="10.15" fill="#3b4cc0"/>
<rect x="348.85" y="273.20" width="10.14" height="10.15" fill="#f6a385"/>
<rect x="358.64" y="273.20" width="10.14" height="10.15" fill="#b40426"/>
<rect x="368.43" y="273.20" width="10.14" height="10.15" fill="#3b4cc0"/>
<rect x="378.22" y="273.20" width="10.14" height="10.15" fill="#c73635"/>
<rect x="388.01" y="273.20" width="10.14" height="10.15" fill="#e26952"/>
<rect x="397.80" y="273.20" width="10.14" height="10.15" fill="#f6a385"/>
<rect x="407.59" y="273.20" width="10.14" height="10.15" fill="#eb7d62"/>
<rect x="417.38" y="273.20" width="10.14" height="10.15" fill="#b40426"/>
<rect x="427.17" y="273.20" width="10.14" height="10.15" fill="#f3c8b2"/>
<rect x="436.96" y="273.20" width="10.14" height="10.15" fill="#b40426"/>
<rect x="446.75" y="273.20" width="10.14" height="10.15" fill="#3b4cc0"/>
<rect x="456.54" y="273.20" width="10.14" height="10.15" fill="#4a63d3"/>
<rect x="466.33" y="273.20" width="10.14" height="10.15" fill="#cf453c"/>
<rect x="476.12" y="273.20" width="10.14" height="10.15" fill="#b40426"/>
<rect x="485.91" y="273.20" width="10.14" height="10.15" fill="#b40426"/>
<rect x="495.70" y="273.20" width="10.14" height="10.15" fill="#b40426"/>
<rect x="505.49" y="273.20" width="10.14" height="10.15" fill="#b40426"/>
<rect x="299.90" y="185.00" width="215.38" height="98.00" fill="none" stroke="#444" stroke-width="0.8"/>
<line x1="297.90" y1="189.90" x2="299.90" y2="189.90" stroke="#333" stroke-width="0.5"/>
<text class="s" x="295.80" y="190.10" font-size="7" text-anchor="end" dominant-baseline="central">0</text>
<line x1="297.90" y1="199.70" x2="299.90" y2="199.70" stroke="#333" stroke-width="0.5"/>
<text class="s" x="295.80" y="199.90" font-size="7" text-anchor="end" dominant-baseline="central">1</text>
<line x1="297.90" y1="209.50" x2="299.90" y2="209.50" stroke="#333" stroke-width="0.5"/>
<text class="s" x="295.80" y="209.70" font-size="7" text-anchor="end" dominant-baseline="central">2</text>
<line x1="297.90" y1="219.30" x2="299.90" y2="219.30" stroke="#333" stroke-width="0.5"/>
<text class="s" x="295.80" y="219.50" font-size="7" text-anchor="end" dominant-baseline="central">3</text>
<line x1="297.90" y1="229.10" x2="299.90" y2="229.10" stroke="#333" stroke-width="0.5"/>
<text class="s" x="295.80" y="229.30" font-size="7" text-anchor="end" dominant-baseline="central">4</text>
<line x1="297.90" y1="238.90" x2="299.90" y2="238.90" stroke="#333" stroke-width="0.5"/>
<text class="s" x="295.80" y="239.10" font-size="7" text-anchor="end" dominant-baseline="central">5</text>
<line x1="297.90" y1="248.70" x2="299.90" y2="248.70" stroke="#333" stroke-width="0.5"/>
<text class="s" x="295.80" y="248.90" font-size="7" text-anchor="end" dominant-baseline="central">6</text>
<line x1="297.90" y1="258.50" x2="299.90" y2="258.50" stroke="#333" stroke-width="0.5"/>
<text class="s" x="295.80" y="258.70" font-size="7" text-anchor="end" dominant-baseline="central">7</text>
<line x1="297.90" y1="268.30" x2="299.90" y2="268.30" stroke="#333" stroke-width="0.5"/>
<text class="s" x="295.80" y="268.50" font-size="7" text-anchor="end" dominant-baseline="central">8</text>
<line x1="297.90" y1="278.10" x2="299.90" y2="278.10" stroke="#333" stroke-width="0.5"/>
<text class="s" x="295.80" y="278.30" font-size="7" text-anchor="end" dominant-baseline="central">9</text>
<line x1="304.79" y1="283.00" x2="304.79" y2="285.00" stroke="#333" stroke-width="0.5"/>
<text class="x" transform="translate(304.79,287.30) rotate(-90)" font-size="7" letter-spacing="0.2" text-anchor="end" dominant-baseline="central">Open</text>
<line x1="314.58" y1="283.00" x2="314.58" y2="285.00" stroke="#333" stroke-width="0.5"/>
<text class="x" transform="translate(314.58,287.30) rotate(-90)" font-size="7" letter-spacing="0.2" text-anchor="end" dominant-baseline="central">Genial</text>
<line x1="324.38" y1="283.00" x2="324.38" y2="285.00" stroke="#333" stroke-width="0.5"/>
<text class="x" transform="translate(324.38,287.30) rotate(-90)" font-size="7" letter-spacing="0.2" text-anchor="end" dominant-baseline="central">Lively</text>
<line x1="334.16" y1="283.00" x2="334.16" y2="285.00" stroke="#333" stroke-width="0.5"/>
<text class="x" transform="translate(334.16,287.30) rotate(-90)" font-size="7" letter-spacing="0.2" text-anchor="end" dominant-baseline="central">Cosy</text>
<line x1="343.95" y1="283.00" x2="343.95" y2="285.00" stroke="#333" stroke-width="0.5"/>
<text class="x" transform="translate(343.95,287.30) rotate(-90)" font-size="7" letter-spacing="0.2" text-anchor="end" dominant-baseline="central">Green</text>
<line x1="353.75" y1="283.00" x2="353.75" y2="285.00" stroke="#333" stroke-width="0.5"/>
<text class="x" transform="translate(353.75,287.30) rotate(-90)" font-size="7" letter-spacing="0.2" text-anchor="end" dominant-baseline="central">Sedate</text>
<line x1="363.53" y1="283.00" x2="363.53" y2="285.00" stroke="#333" stroke-width="0.5"/>
<text class="x" transform="translate(363.53,287.30) rotate(-90)" font-size="7" letter-spacing="0.2" text-anchor="end" dominant-baseline="central">Bright</text>
<line x1="373.32" y1="283.00" x2="373.32" y2="285.00" stroke="#333" stroke-width="0.5"/>
<text class="x" transform="translate(373.32,287.30) rotate(-90)" font-size="7" letter-spacing="0.2" text-anchor="end" dominant-baseline="central">Antiquated</text>
<line x1="383.11" y1="283.00" x2="383.11" y2="285.00" stroke="#333" stroke-width="0.5"/>
<text class="x" transform="translate(383.11,287.30) rotate(-90)" font-size="7" letter-spacing="0.2" text-anchor="end" dominant-baseline="central">Safe</text>
<line x1="392.90" y1="283.00" x2="392.90" y2="285.00" stroke="#333" stroke-width="0.5"/>
<text class="x" transform="translate(392.90,287.30) rotate(-90)" font-size="7" letter-spacing="0.2" text-anchor="end" dominant-baseline="central">Refreshing</text>
<line x1="402.69" y1="283.00" x2="402.69" y2="285.00" stroke="#333" stroke-width="0.5"/>
<text class="x" transform="translate(402.69,287.30) rotate(-90)" font-size="7" letter-spacing="0.2" text-anchor="end" dominant-baseline="central">Vitality</text>
<line x1="412.48" y1="283.00" x2="412.48" y2="285.00" stroke="#333" stroke-width="0.5"/>
<text class="x" transform="translate(412.48,287.30) rotate(-90)" font-size="7" letter-spacing="0.2" text-anchor="end" dominant-baseline="central">Comfortable</text>
<line x1="422.27" y1="283.00" x2="422.27" y2="285.00" stroke="#333" stroke-width="0.5"/>
<text class="x" transform="translate(422.27,287.30) rotate(-90)" font-size="7" letter-spacing="0.2" text-anchor="end" dominant-baseline="central">Clean</text>
<line x1="432.06" y1="283.00" x2="432.06" y2="285.00" stroke="#333" stroke-width="0.5"/>
<text class="x" transform="translate(432.06,287.30) rotate(-90)" font-size="7" letter-spacing="0.2" text-anchor="end" dominant-baseline="central">Beautiful</text>
<line x1="441.85" y1="283.00" x2="441.85" y2="285.00" stroke="#333" stroke-width="0.5"/>
<text class="x" transform="translate(441.85,287.30) rotate(-90)" font-size="7" letter-spacing="0.2" text-anchor="end" dominant-baseline="central">Affluent</text>
<line x1="451.64" y1="283.00" x2="451.64" y2="285.00" stroke="#333" stroke-width="0.5"/>
<text class="x" transform="translate(451.64,287.30) rotate(-90)" font-size="7" letter-spacing="0.2" text-anchor="end" dominant-baseline="central">Boring</text>
<line x1="461.43" y1="283.00" x2="461.43" y2="285.00" stroke="#333" stroke-width="0.5"/>
<text class="x" transform="translate(461.43,287.30) rotate(-90)" font-size="7" letter-spacing="0.2" text-anchor="end" dominant-baseline="central">Depressing</text>
<line x1="471.22" y1="283.00" x2="471.22" y2="285.00" stroke="#333" stroke-width="0.5"/>
<text class="x" transform="translate(471.22,287.30) rotate(-90)" font-size="7" letter-spacing="0.2" text-anchor="end" dominant-baseline="central">Pleasing</text>
<line x1="481.01" y1="283.00" x2="481.01" y2="285.00" stroke="#333" stroke-width="0.5"/>
<text class="x" transform="translate(481.01,287.30) rotate(-90)" font-size="7" letter-spacing="0.2" text-anchor="end" dominant-baseline="central">Interesting</text>
<line x1="490.80" y1="283.00" x2="490.80" y2="285.00" stroke="#333" stroke-width="0.5"/>
<text class="x" transform="translate(490.80,287.30) rotate(-90)" font-size="7" letter-spacing="0.2" text-anchor="end" dominant-baseline="central">Habitable</text>
<line x1="500.59" y1="283.00" x2="500.59" y2="285.00" stroke="#333" stroke-width="0.5"/>
<text class="x" transform="translate(500.59,287.30) rotate(-90)" font-size="7" letter-spacing="0.2" text-anchor="end" dominant-baseline="central">Passable</text>
<line x1="510.38" y1="283.00" x2="510.38" y2="285.00" stroke="#333" stroke-width="0.5"/>
<text class="x" transform="translate(510.38,287.30) rotate(-90)" font-size="7" letter-spacing="0.2" text-anchor="end" dominant-baseline="central">Charming</text>
<text class="t" x="415.00" y="175.30" font-size="10.3" text-anchor="middle">(d) Night/Move</text>
<text class="t" transform="translate(283.20,234.00) rotate(-90)" font-size="7.3" text-anchor="middle" dominant-baseline="central" style="fill:#333">Pflow class</text>
<rect x="528.40" y="183.00" width="5.80" height="102.00" fill="url(#cb)" stroke="#333" stroke-width="0.5"/>
<line x1="534.20" y1="285.00" x2="536.20" y2="285.00" stroke="#333" stroke-width="0.5"/>
<text class="s" x="538.20" y="285.20" font-size="7" dominant-baseline="central">0.0</text>
<line x1="534.20" y1="264.60" x2="536.20" y2="264.60" stroke="#333" stroke-width="0.5"/>
<text class="s" x="538.20" y="264.80" font-size="7" dominant-baseline="central">0.2</text>
<line x1="534.20" y1="244.20" x2="536.20" y2="244.20" stroke="#333" stroke-width="0.5"/>
<text class="s" x="538.20" y="244.40" font-size="7" dominant-baseline="central">0.4</text>
<line x1="534.20" y1="223.80" x2="536.20" y2="223.80" stroke="#333" stroke-width="0.5"/>
<text class="s" x="538.20" y="224.00" font-size="7" dominant-baseline="central">0.6</text>
<line x1="534.20" y1="203.40" x2="536.20" y2="203.40" stroke="#333" stroke-width="0.5"/>
<text class="s" x="538.20" y="203.60" font-size="7" dominant-baseline="central">0.8</text>
<line x1="534.20" y1="183.00" x2="536.20" y2="183.00" stroke="#333" stroke-width="0.5"/>
<text class="s" x="538.20" y="183.20" font-size="7" dominant-baseline="central">1.0</text>
</svg></body></html>
